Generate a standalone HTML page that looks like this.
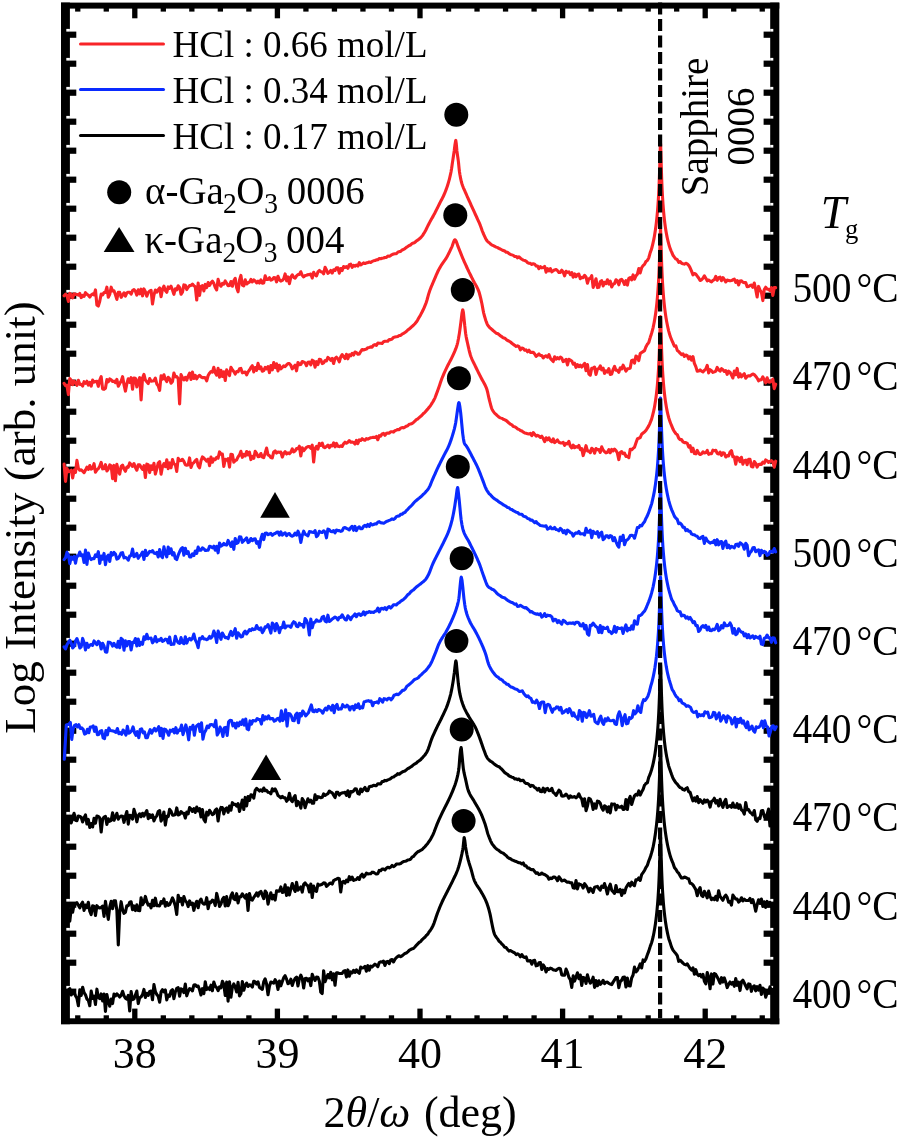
<!DOCTYPE html>
<html><head><meta charset="utf-8"><title>XRD</title>
<style>html,body{margin:0;padding:0;background:#fff;overflow:hidden;width:900px;height:1140px;} svg{display:block;}</style>
</head><body>
<svg width="900" height="1140" viewBox="0 0 900 1140"><rect width="900" height="1140" fill="#fff"/><g fill="#000"><rect x="61.0" y="2.6" width="718.3" height="6.0"/><rect x="61.0" y="1018.3" width="718.3" height="5.900000000000091"/><rect x="61.0" y="2.6" width="8.900000000000006" height="1021.6"/><rect x="770.2" y="2.6" width="9.099999999999909" height="1021.6"/><rect x="75.11" y="1015.30" width="5.3" height="4.0"/><rect x="75.11" y="7.60" width="5.3" height="4.0"/><rect x="103.63" y="1015.30" width="5.3" height="4.0"/><rect x="103.63" y="7.60" width="5.3" height="4.0"/><rect x="132.15" y="1008.60" width="5.3" height="10.7"/><rect x="132.15" y="7.60" width="5.3" height="10.7"/><rect x="160.67" y="1015.30" width="5.3" height="4.0"/><rect x="160.67" y="7.60" width="5.3" height="4.0"/><rect x="189.19" y="1015.30" width="5.3" height="4.0"/><rect x="189.19" y="7.60" width="5.3" height="4.0"/><rect x="217.71" y="1015.30" width="5.3" height="4.0"/><rect x="217.71" y="7.60" width="5.3" height="4.0"/><rect x="246.23" y="1015.30" width="5.3" height="4.0"/><rect x="246.23" y="7.60" width="5.3" height="4.0"/><rect x="274.75" y="1008.60" width="5.3" height="10.7"/><rect x="274.75" y="7.60" width="5.3" height="10.7"/><rect x="303.27" y="1015.30" width="5.3" height="4.0"/><rect x="303.27" y="7.60" width="5.3" height="4.0"/><rect x="331.79" y="1015.30" width="5.3" height="4.0"/><rect x="331.79" y="7.60" width="5.3" height="4.0"/><rect x="360.31" y="1015.30" width="5.3" height="4.0"/><rect x="360.31" y="7.60" width="5.3" height="4.0"/><rect x="388.83" y="1015.30" width="5.3" height="4.0"/><rect x="388.83" y="7.60" width="5.3" height="4.0"/><rect x="417.35" y="1008.60" width="5.3" height="10.7"/><rect x="417.35" y="7.60" width="5.3" height="10.7"/><rect x="445.87" y="1015.30" width="5.3" height="4.0"/><rect x="445.87" y="7.60" width="5.3" height="4.0"/><rect x="474.39" y="1015.30" width="5.3" height="4.0"/><rect x="474.39" y="7.60" width="5.3" height="4.0"/><rect x="502.91" y="1015.30" width="5.3" height="4.0"/><rect x="502.91" y="7.60" width="5.3" height="4.0"/><rect x="531.43" y="1015.30" width="5.3" height="4.0"/><rect x="531.43" y="7.60" width="5.3" height="4.0"/><rect x="559.95" y="1008.60" width="5.3" height="10.7"/><rect x="559.95" y="7.60" width="5.3" height="10.7"/><rect x="588.47" y="1015.30" width="5.3" height="4.0"/><rect x="588.47" y="7.60" width="5.3" height="4.0"/><rect x="616.99" y="1015.30" width="5.3" height="4.0"/><rect x="616.99" y="7.60" width="5.3" height="4.0"/><rect x="645.51" y="1015.30" width="5.3" height="4.0"/><rect x="645.51" y="7.60" width="5.3" height="4.0"/><rect x="674.03" y="1015.30" width="5.3" height="4.0"/><rect x="674.03" y="7.60" width="5.3" height="4.0"/><rect x="702.55" y="1008.60" width="5.3" height="10.7"/><rect x="702.55" y="7.60" width="5.3" height="10.7"/><rect x="731.07" y="1015.30" width="5.3" height="4.0"/><rect x="731.07" y="7.60" width="5.3" height="4.0"/><rect x="759.59" y="1015.30" width="5.3" height="4.0"/><rect x="759.59" y="7.60" width="5.3" height="4.0"/><rect x="66" y="31.60" width="10.3" height="6.2"/><rect x="763.6" y="31.60" width="10" height="6.2"/><rect x="66" y="60.60" width="10.3" height="6.2"/><rect x="763.6" y="60.60" width="10" height="6.2"/><rect x="66" y="89.60" width="10.3" height="6.2"/><rect x="763.6" y="89.60" width="10" height="6.2"/><rect x="66" y="118.60" width="10.3" height="6.2"/><rect x="763.6" y="118.60" width="10" height="6.2"/><rect x="66" y="147.60" width="10.3" height="6.2"/><rect x="763.6" y="147.60" width="10" height="6.2"/><rect x="66" y="176.60" width="10.3" height="6.2"/><rect x="763.6" y="176.60" width="10" height="6.2"/><rect x="66" y="205.60" width="10.3" height="6.2"/><rect x="763.6" y="205.60" width="10" height="6.2"/><rect x="66" y="234.60" width="10.3" height="6.2"/><rect x="763.6" y="234.60" width="10" height="6.2"/><rect x="66" y="263.60" width="10.3" height="6.2"/><rect x="763.6" y="263.60" width="10" height="6.2"/><rect x="66" y="292.60" width="10.3" height="6.2"/><rect x="763.6" y="292.60" width="10" height="6.2"/><rect x="66" y="321.60" width="10.3" height="6.2"/><rect x="763.6" y="321.60" width="10" height="6.2"/><rect x="66" y="350.60" width="10.3" height="6.2"/><rect x="763.6" y="350.60" width="10" height="6.2"/><rect x="66" y="379.60" width="10.3" height="6.2"/><rect x="763.6" y="379.60" width="10" height="6.2"/><rect x="66" y="408.60" width="10.3" height="6.2"/><rect x="763.6" y="408.60" width="10" height="6.2"/><rect x="66" y="437.60" width="10.3" height="6.2"/><rect x="763.6" y="437.60" width="10" height="6.2"/><rect x="66" y="466.60" width="10.3" height="6.2"/><rect x="763.6" y="466.60" width="10" height="6.2"/><rect x="66" y="495.60" width="10.3" height="6.2"/><rect x="763.6" y="495.60" width="10" height="6.2"/><rect x="66" y="524.60" width="10.3" height="6.2"/><rect x="763.6" y="524.60" width="10" height="6.2"/><rect x="66" y="553.60" width="10.3" height="6.2"/><rect x="763.6" y="553.60" width="10" height="6.2"/><rect x="66" y="582.60" width="10.3" height="6.2"/><rect x="763.6" y="582.60" width="10" height="6.2"/><rect x="66" y="611.60" width="10.3" height="6.2"/><rect x="763.6" y="611.60" width="10" height="6.2"/><rect x="66" y="640.60" width="10.3" height="6.2"/><rect x="763.6" y="640.60" width="10" height="6.2"/><rect x="66" y="669.60" width="10.3" height="6.2"/><rect x="763.6" y="669.60" width="10" height="6.2"/><rect x="66" y="698.60" width="10.3" height="6.2"/><rect x="763.6" y="698.60" width="10" height="6.2"/><rect x="66" y="727.60" width="10.3" height="6.2"/><rect x="763.6" y="727.60" width="10" height="6.2"/><rect x="66" y="756.60" width="10.3" height="6.2"/><rect x="763.6" y="756.60" width="10" height="6.2"/><rect x="66" y="785.60" width="10.3" height="6.2"/><rect x="763.6" y="785.60" width="10" height="6.2"/><rect x="66" y="814.60" width="10.3" height="6.2"/><rect x="763.6" y="814.60" width="10" height="6.2"/><rect x="66" y="843.60" width="10.3" height="6.2"/><rect x="763.6" y="843.60" width="10" height="6.2"/><rect x="66" y="872.60" width="10.3" height="6.2"/><rect x="763.6" y="872.60" width="10" height="6.2"/><rect x="66" y="901.60" width="10.3" height="6.2"/><rect x="763.6" y="901.60" width="10" height="6.2"/><rect x="66" y="930.60" width="10.3" height="6.2"/><rect x="763.6" y="930.60" width="10" height="6.2"/><rect x="66" y="959.60" width="10.3" height="6.2"/><rect x="763.6" y="959.60" width="10" height="6.2"/><rect x="66" y="988.60" width="10.3" height="6.2"/><rect x="763.6" y="988.60" width="10" height="6.2"/></g><g fill="#fff"><rect x="66.3" y="28.90" width="3.6" height="2.7"/><rect x="770.20" y="28.90" width="3.1" height="2.7"/><rect x="66.3" y="57.90" width="3.6" height="2.7"/><rect x="770.20" y="57.90" width="3.1" height="2.7"/><rect x="66.3" y="86.90" width="3.6" height="2.7"/><rect x="770.20" y="86.90" width="3.1" height="2.7"/><rect x="66.3" y="115.90" width="3.6" height="2.7"/><rect x="770.20" y="115.90" width="3.1" height="2.7"/><rect x="66.3" y="144.90" width="3.6" height="2.7"/><rect x="770.20" y="144.90" width="3.1" height="2.7"/><rect x="66.3" y="173.90" width="3.6" height="2.7"/><rect x="770.20" y="173.90" width="3.1" height="2.7"/><rect x="66.3" y="202.90" width="3.6" height="2.7"/><rect x="770.20" y="202.90" width="3.1" height="2.7"/><rect x="66.3" y="231.90" width="3.6" height="2.7"/><rect x="770.20" y="231.90" width="3.1" height="2.7"/><rect x="66.3" y="260.90" width="3.6" height="2.7"/><rect x="770.20" y="260.90" width="3.1" height="2.7"/><rect x="66.3" y="289.90" width="3.6" height="2.7"/><rect x="770.20" y="289.90" width="3.1" height="2.7"/><rect x="66.3" y="318.90" width="3.6" height="2.7"/><rect x="770.20" y="318.90" width="3.1" height="2.7"/><rect x="66.3" y="347.90" width="3.6" height="2.7"/><rect x="770.20" y="347.90" width="3.1" height="2.7"/><rect x="66.3" y="376.90" width="3.6" height="2.7"/><rect x="770.20" y="376.90" width="3.1" height="2.7"/><rect x="66.3" y="405.90" width="3.6" height="2.7"/><rect x="770.20" y="405.90" width="3.1" height="2.7"/><rect x="66.3" y="434.90" width="3.6" height="2.7"/><rect x="770.20" y="434.90" width="3.1" height="2.7"/><rect x="66.3" y="463.90" width="3.6" height="2.7"/><rect x="770.20" y="463.90" width="3.1" height="2.7"/><rect x="66.3" y="492.90" width="3.6" height="2.7"/><rect x="770.20" y="492.90" width="3.1" height="2.7"/><rect x="66.3" y="521.90" width="3.6" height="2.7"/><rect x="770.20" y="521.90" width="3.1" height="2.7"/><rect x="66.3" y="550.90" width="3.6" height="2.7"/><rect x="770.20" y="550.90" width="3.1" height="2.7"/><rect x="66.3" y="579.90" width="3.6" height="2.7"/><rect x="770.20" y="579.90" width="3.1" height="2.7"/><rect x="66.3" y="608.90" width="3.6" height="2.7"/><rect x="770.20" y="608.90" width="3.1" height="2.7"/><rect x="66.3" y="637.90" width="3.6" height="2.7"/><rect x="770.20" y="637.90" width="3.1" height="2.7"/><rect x="66.3" y="666.90" width="3.6" height="2.7"/><rect x="770.20" y="666.90" width="3.1" height="2.7"/><rect x="66.3" y="695.90" width="3.6" height="2.7"/><rect x="770.20" y="695.90" width="3.1" height="2.7"/><rect x="66.3" y="724.90" width="3.6" height="2.7"/><rect x="770.20" y="724.90" width="3.1" height="2.7"/><rect x="66.3" y="753.90" width="3.6" height="2.7"/><rect x="770.20" y="753.90" width="3.1" height="2.7"/><rect x="66.3" y="782.90" width="3.6" height="2.7"/><rect x="770.20" y="782.90" width="3.1" height="2.7"/><rect x="66.3" y="811.90" width="3.6" height="2.7"/><rect x="770.20" y="811.90" width="3.1" height="2.7"/><rect x="66.3" y="840.90" width="3.6" height="2.7"/><rect x="770.20" y="840.90" width="3.1" height="2.7"/><rect x="66.3" y="869.90" width="3.6" height="2.7"/><rect x="770.20" y="869.90" width="3.1" height="2.7"/><rect x="66.3" y="898.90" width="3.6" height="2.7"/><rect x="770.20" y="898.90" width="3.1" height="2.7"/><rect x="66.3" y="927.90" width="3.6" height="2.7"/><rect x="770.20" y="927.90" width="3.1" height="2.7"/><rect x="66.3" y="956.90" width="3.6" height="2.7"/><rect x="770.20" y="956.90" width="3.1" height="2.7"/><rect x="66.3" y="985.90" width="3.6" height="2.7"/><rect x="770.20" y="985.90" width="3.1" height="2.7"/></g><path d="M64.10,295.80 L65.53,294.18 L66.95,295.50 L68.38,301.40 L69.80,293.42 L71.23,294.63 L72.66,297.81 L74.08,293.89 L75.51,294.40 L76.93,294.47 L78.36,295.19 L79.79,293.38 L81.21,297.64 L82.64,295.40 L84.06,296.40 L85.49,292.66 L86.92,294.31 L88.34,295.33 L89.77,297.04 L91.19,294.97 L92.62,293.95 L94.05,294.82 L95.47,289.87 L96.90,305.00 L98.32,306.09 L99.75,301.27 L101.18,294.03 L102.60,294.84 L104.03,292.60 L105.45,292.52 L106.88,287.15 L108.31,297.29 L109.73,294.39 L111.16,287.18 L112.58,290.92 L114.01,290.83 L115.44,294.70 L116.86,299.41 L118.29,292.25 L119.71,292.40 L121.14,297.38 L122.57,295.13 L123.99,292.88 L125.42,296.07 L126.84,292.88 L128.27,292.18 L129.70,292.33 L131.12,294.18 L132.55,290.45 L133.97,289.51 L135.40,291.18 L136.83,295.13 L138.25,289.78 L139.68,293.78 L141.10,289.20 L142.53,295.84 L143.96,288.91 L145.38,291.71 L146.81,296.28 L148.23,292.50 L149.66,291.11 L151.09,290.26 L152.51,304.00 L153.94,295.01 L155.36,290.07 L156.79,292.21 L158.22,289.65 L159.64,287.88 L161.07,296.65 L162.49,289.11 L163.92,286.08 L165.35,290.64 L166.77,292.38 L168.20,286.94 L169.62,288.30 L171.05,286.20 L172.48,289.99 L173.90,294.37 L175.33,288.86 L176.75,289.88 L178.18,285.77 L179.61,287.41 L181.03,294.28 L182.46,292.20 L183.88,284.90 L185.31,285.35 L186.74,289.57 L188.16,287.19 L189.59,285.63 L191.01,285.42 L192.44,284.08 L193.87,285.79 L195.29,286.78 L196.72,300.00 L198.14,283.02 L199.57,295.37 L201.00,286.36 L202.42,285.65 L203.85,290.93 L205.27,284.42 L206.70,287.56 L208.13,282.59 L209.55,285.45 L210.98,282.87 L212.40,281.21 L213.83,283.43 L215.26,287.50 L216.68,289.91 L218.11,279.31 L219.53,284.40 L220.96,286.22 L222.39,283.31 L223.81,284.23 L225.24,280.98 L226.66,283.23 L228.09,285.69 L229.52,285.41 L230.94,281.50 L232.37,286.27 L233.79,280.68 L235.22,278.30 L236.65,287.70 L238.07,291.81 L239.50,280.27 L240.92,275.46 L242.35,285.05 L243.78,285.81 L245.20,279.80 L246.63,284.02 L248.05,282.76 L249.48,282.11 L250.91,279.41 L252.33,281.99 L253.76,279.83 L255.18,281.00 L256.61,282.95 L258.04,281.14 L259.46,282.99 L260.89,279.89 L262.31,283.25 L263.74,282.99 L265.17,275.81 L266.59,279.52 L268.02,279.39 L269.44,277.75 L270.87,280.17 L272.30,279.48 L273.72,277.60 L275.15,277.84 L276.57,281.86 L278.00,276.23 L279.43,279.83 L280.85,281.08 L282.28,280.45 L283.70,278.84 L285.13,273.87 L286.56,280.81 L287.98,276.97 L289.41,283.61 L290.83,277.08 L292.26,274.81 L293.69,277.36 L295.11,278.21 L296.54,275.88 L297.96,274.65 L299.39,274.56 L300.82,271.75 L302.24,275.22 L303.67,276.92 L305.09,275.58 L306.52,275.24 L307.95,274.62 L309.37,274.69 L310.80,274.02 L312.22,278.08 L313.65,272.26 L315.08,274.87 L316.50,275.93 L317.93,271.92 L319.35,270.48 L320.78,271.69 L322.21,272.03 L323.63,273.84 L325.06,267.23 L326.48,270.01 L327.91,273.27 L329.34,272.27 L330.76,270.48 L332.19,273.01 L333.61,269.77 L335.04,270.46 L336.47,267.69 L337.89,267.79 L339.32,273.17 L340.74,268.49 L342.17,270.57 L343.60,266.53 L345.02,267.42 L346.45,266.65 L347.87,268.36 L349.30,264.64 L350.73,264.18 L352.15,267.30 L353.58,265.33 L355.00,266.14 L356.43,265.10 L357.86,266.06 L359.28,262.66 L360.71,264.99 L362.13,263.98 L363.56,262.91 L364.99,263.55 L366.41,262.82 L367.84,262.71 L369.26,261.97 L370.69,262.39 L372.12,261.41 L373.54,260.84 L374.97,260.52 L376.39,259.84 L377.82,259.64 L379.25,258.58 L380.67,258.79 L382.10,258.23 L383.52,258.07 L384.95,257.52 L386.38,257.41 L387.80,256.03 L389.23,256.31 L390.65,255.59 L392.08,254.57 L393.51,254.00 L394.93,253.73 L396.36,253.72 L397.78,252.19 L399.21,251.59 L400.64,251.43 L402.06,249.96 L403.49,249.50 L404.91,248.66 L406.34,247.38 L407.77,246.48 L409.19,245.47 L410.62,244.94 L412.04,243.48 L413.47,243.08 L414.90,242.32 L416.32,241.01 L417.75,240.16 L419.17,238.95 L420.00,238.28 L420.60,237.75 L420.70,237.65 L421.10,237.23 L421.40,236.90 L422.03,236.12 L422.10,236.02 L422.80,235.04 L423.45,234.04 L423.50,233.97 L424.20,232.89 L424.88,231.79 L424.90,231.75 L425.30,231.03 L425.60,230.47 L426.30,229.04 L426.30,229.03 L427.00,227.60 L427.70,226.14 L427.73,226.08 L428.40,224.74 L428.40,224.74 L429.10,223.42 L429.16,223.32 L429.80,222.12 L430.50,220.84 L430.58,220.69 L431.20,219.59 L431.90,218.35 L432.01,218.16 L432.60,217.12 L433.30,215.88 L433.43,215.63 L434.00,214.59 L434.20,214.22 L434.70,213.27 L434.86,212.97 L435.40,211.90 L436.10,210.50 L436.29,210.13 L436.80,209.13 L437.50,207.75 L437.71,207.33 L438.20,206.35 L438.90,204.93 L439.14,204.45 L439.50,203.72 L439.60,203.52 L440.30,202.14 L440.56,201.63 L441.00,200.81 L441.70,199.49 L441.99,198.94 L442.40,198.14 L443.10,196.73 L443.42,196.07 L443.80,195.25 L444.50,193.68 L444.70,193.21 L444.84,192.86 L445.20,191.98 L445.90,190.16 L446.27,189.15 L446.60,188.22 L447.30,186.16 L447.69,184.93 L448.00,183.94 L448.40,182.61 L448.70,181.57 L449.12,180.07 L449.40,179.03 L450.10,176.20 L450.55,174.21 L450.80,173.00 L451.00,172.00 L451.50,169.10 L451.97,165.92 L452.20,164.33 L452.60,161.60 L452.90,159.62 L453.40,156.31 L453.60,154.97 L454.20,151.00 L454.30,150.30 L454.82,145.93 L455.00,144.43 L455.70,140.58 L455.80,140.50 L456.25,143.45 L456.40,145.25 L456.90,151.00 L457.10,152.56 L457.68,156.47 L457.80,157.29 L458.40,161.60 L458.50,162.46 L459.10,168.55 L459.20,169.51 L459.50,172.01 L459.90,174.58 L460.53,178.07 L460.60,178.43 L461.30,181.50 L461.60,182.60 L461.95,183.78 L462.00,183.93 L462.70,185.98 L463.38,187.72 L463.40,187.77 L464.10,189.40 L464.80,190.95 L464.81,190.96 L465.50,192.51 L465.80,193.21 L466.20,194.15 L466.23,194.22 L466.90,195.75 L467.60,197.32 L467.66,197.45 L468.30,198.88 L469.00,200.43 L469.08,200.61 L469.70,201.95 L470.40,203.47 L470.50,203.69 L470.51,203.71 L471.10,205.02 L471.80,206.55 L471.94,206.85 L472.50,208.09 L473.20,209.62 L473.36,209.97 L473.90,211.16 L474.60,212.70 L474.79,213.12 L475.30,214.23 L475.30,214.23 L476.00,215.75 L476.21,216.21 L476.70,217.27 L477.40,218.80 L477.64,219.33 L478.10,220.32 L478.80,221.84 L479.07,222.44 L479.50,223.46 L480.00,224.68 L480.20,225.18 L480.49,225.95 L480.90,227.07 L481.60,229.04 L481.92,229.93 L482.30,230.98 L483.00,232.74 L483.20,233.19 L483.34,233.51 L483.70,234.29 L484.40,235.83 L484.77,236.63 L485.10,237.35 L485.80,238.81 L486.20,239.57 L486.50,240.04 L487.20,240.97 L487.62,241.42 L487.80,241.57 L487.90,241.66 L488.60,242.20 L489.05,242.52 L489.30,242.78 L490.00,243.49 L490.47,243.95 L490.70,244.11 L491.40,244.59 L491.90,244.91 L492.10,245.02 L492.80,245.36 L493.33,245.61 L493.50,245.71 L494.20,246.09 L494.75,246.38 L494.90,246.46 L495.60,246.82 L496.18,247.11 L496.30,247.15 L497.00,247.39 L497.60,247.60 L497.70,247.65 L498.40,248.06 L498.90,248.37 L499.03,248.45 L499.10,248.48 L499.80,248.78 L500.46,249.06 L500.50,249.09 L501.20,249.50 L501.88,249.90 L501.90,249.91 L502.60,250.23 L503.30,250.55 L503.31,250.55 L504.00,250.81 L504.70,251.06 L504.73,251.07 L506.16,252.19 L507.59,252.27 L509.01,253.69 L510.44,254.43 L511.86,254.87 L513.29,255.35 L514.72,256.53 L516.14,256.44 L517.57,257.87 L518.99,256.84 L520.42,258.23 L521.85,259.27 L523.27,260.12 L524.70,260.52 L526.12,261.16 L527.55,262.57 L528.98,263.27 L530.40,263.40 L531.83,264.46 L533.25,263.74 L534.68,264.15 L536.11,265.92 L537.53,265.95 L538.96,268.69 L540.38,266.62 L541.81,267.82 L543.24,267.49 L544.66,266.35 L546.09,272.26 L547.51,268.62 L548.94,270.94 L550.37,268.63 L551.79,271.87 L553.22,270.77 L554.64,269.91 L556.07,269.52 L557.50,270.65 L558.92,272.46 L560.35,272.37 L561.77,270.20 L563.20,272.10 L564.63,275.89 L566.05,271.23 L567.48,272.35 L568.90,271.84 L570.33,274.64 L571.76,272.63 L573.18,277.21 L574.61,273.89 L576.03,276.70 L577.46,274.43 L578.89,274.09 L580.31,278.72 L581.74,277.39 L583.16,277.66 L584.59,275.37 L586.02,277.00 L587.44,283.15 L588.87,278.71 L590.29,278.48 L591.72,275.65 L593.15,287.43 L594.57,283.74 L596.00,278.76 L597.42,287.58 L598.85,287.29 L600.28,281.80 L601.70,280.59 L603.13,285.97 L604.55,282.26 L605.98,283.65 L607.41,279.80 L608.83,284.09 L610.26,281.09 L611.68,286.93 L613.11,284.20 L614.54,283.65 L615.96,279.79 L617.39,280.99 L618.81,284.79 L620.24,280.00 L621.67,279.39 L623.09,281.46 L624.52,284.49 L625.94,280.70 L627.37,285.05 L628.80,278.43 L630.22,277.63 L631.65,279.84 L633.07,274.90 L634.50,279.21 L635.93,275.87 L637.35,274.30 L638.78,268.56 L640.20,272.95 L641.63,267.75 L643.06,265.64 L644.48,264.35 L645.00,263.35 L645.20,262.95 L645.40,262.55 L645.60,262.14 L645.80,261.72 L645.91,261.49 L646.00,261.43 L646.20,261.31 L646.40,261.17 L646.60,261.03 L646.80,260.88 L647.00,260.72 L647.20,260.56 L647.33,260.44 L647.40,260.33 L647.60,259.99 L647.80,259.64 L648.00,259.28 L648.20,258.92 L648.40,258.54 L648.60,258.15 L648.76,257.82 L648.80,257.69 L649.00,257.00 L649.20,256.30 L649.40,255.59 L649.60,254.86 L649.80,254.12 L650.00,253.37 L650.19,252.65 L650.20,252.62 L650.40,252.12 L650.60,251.60 L650.80,251.07 L651.00,250.52 L651.20,249.95 L651.40,249.37 L651.60,248.76 L651.61,248.72 L651.80,248.02 L652.00,247.26 L652.20,246.47 L652.40,245.65 L652.60,244.82 L652.80,243.95 L653.00,243.06 L653.04,242.89 L653.20,242.18 L653.40,241.27 L653.60,240.33 L653.80,239.36 L654.00,238.36 L654.20,237.31 L654.40,236.23 L654.46,235.87 L654.60,235.08 L654.80,233.87 L655.00,232.61 L655.20,231.30 L655.40,229.94 L655.60,228.52 L655.80,227.03 L655.89,226.34 L656.00,225.49 L656.20,223.89 L656.40,222.21 L656.60,220.44 L656.80,218.57 L657.00,216.60 L657.20,214.51 L657.32,213.23 L657.40,212.28 L657.60,209.90 L657.80,207.36 L658.00,204.63 L658.20,201.68 L658.40,198.48 L658.60,194.98 L658.74,192.30 L658.80,191.14 L659.00,186.89 L659.20,182.15 L659.40,176.83 L659.60,170.82 L659.80,164.07 L660.00,156.68 L660.17,150.47 L660.20,149.37 L660.40,144.26 L660.50,143.50 L660.60,144.23 L660.80,149.30 L661.00,156.56 L661.20,163.90 L661.40,170.61 L661.59,176.40 L661.60,176.57 L661.80,181.84 L662.00,186.53 L662.20,190.74 L662.40,194.53 L662.60,197.98 L662.80,201.14 L663.00,204.05 L663.02,204.33 L663.20,206.74 L663.40,209.24 L663.60,211.57 L663.80,213.76 L664.00,215.81 L664.20,217.74 L664.40,219.56 L664.45,219.96 L664.60,221.29 L664.80,222.93 L665.00,224.48 L665.20,225.97 L665.40,227.38 L665.60,228.73 L665.80,230.02 L665.87,230.47 L666.00,231.24 L666.20,232.40 L666.40,233.52 L666.60,234.59 L666.80,235.62 L667.00,236.61 L667.20,237.56 L667.30,238.01 L667.40,238.48 L667.60,239.38 L667.80,240.24 L668.00,241.07 L668.20,241.88 L668.40,242.65 L668.60,243.40 L668.72,243.85 L668.80,244.13 L669.00,244.85 L669.20,245.54 L669.40,246.21 L669.60,246.86 L669.80,247.49 L670.00,248.10 L670.15,248.55 L670.20,248.68 L670.40,249.17 L670.60,249.64 L670.80,250.10 L671.00,250.55 L671.20,250.97 L671.40,251.39 L671.58,251.74 L671.60,251.80 L671.80,252.33 L672.00,252.85 L672.20,253.35 L672.40,253.84 L672.60,254.32 L672.80,254.79 L673.00,255.24 L673.00,255.25 L673.20,255.54 L673.40,255.83 L673.60,256.11 L673.80,256.38 L674.00,256.64 L674.20,256.90 L674.40,257.14 L674.43,257.17 L674.60,257.41 L674.80,257.67 L675.00,257.93 L675.20,258.18 L675.40,258.43 L675.60,258.66 L675.80,258.89 L675.85,258.95 L677.28,259.72 L678.71,262.36 L680.13,261.69 L681.56,263.19 L682.98,263.67 L684.41,264.11 L685.84,263.27 L687.26,263.86 L688.69,265.30 L690.11,267.87 L691.54,271.11 L692.97,274.82 L694.39,273.51 L695.82,274.17 L697.24,276.10 L698.67,278.01 L700.10,280.47 L701.52,279.81 L702.95,278.21 L704.37,275.85 L705.80,278.20 L707.23,280.78 L708.65,279.96 L710.08,281.11 L711.50,281.83 L712.93,280.44 L714.36,279.69 L715.78,276.47 L717.21,280.33 L718.63,277.70 L720.06,277.04 L721.49,280.73 L722.91,277.56 L724.34,279.40 L725.76,281.92 L727.19,280.12 L728.62,280.46 L730.04,280.84 L731.47,280.58 L732.89,279.69 L734.32,279.06 L735.75,282.35 L737.17,280.56 L738.60,284.99 L740.02,280.94 L741.45,280.69 L742.88,282.35 L744.30,282.63 L745.73,282.60 L747.15,286.68 L748.58,286.45 L750.01,285.45 L751.43,285.13 L752.86,287.32 L754.28,283.05 L755.71,289.36 L757.14,297.00 L758.56,286.42 L759.99,290.05 L761.41,292.16 L762.84,300.56 L764.27,289.56 L765.69,287.24 L767.12,289.20 L768.54,289.28 L769.97,290.51 L771.40,287.69 L772.82,295.50 L774.25,287.64 L775.67,287.65" fill="none" stroke="#f82428" stroke-width="3.1" stroke-linejoin="round" stroke-linecap="round"/><path d="M64.10,383.35 L65.53,385.75 L66.95,385.28 L68.38,394.59 L69.80,378.47 L71.23,380.15 L72.66,384.71 L74.08,381.09 L75.51,382.54 L76.93,385.36 L78.36,380.31 L79.79,384.35 L81.21,384.36 L82.64,386.03 L84.06,381.63 L85.49,383.38 L86.92,381.24 L88.34,385.09 L89.77,382.45 L91.19,386.09 L92.62,380.13 L94.05,382.09 L95.47,381.58 L96.90,381.28 L98.32,386.31 L99.75,380.05 L101.18,376.58 L102.60,388.94 L104.03,389.33 L105.45,388.23 L106.88,379.65 L108.31,381.82 L109.73,378.90 L111.16,379.89 L112.58,381.44 L114.01,381.17 L115.44,382.65 L116.86,379.32 L118.29,386.24 L119.71,383.44 L121.14,381.13 L122.57,376.64 L123.99,384.62 L125.42,391.10 L126.84,383.77 L128.27,378.73 L129.70,382.50 L131.12,377.65 L132.55,389.27 L133.97,378.09 L135.40,378.30 L136.83,386.94 L138.25,380.87 L139.68,377.62 L141.10,400.00 L142.53,378.08 L143.96,374.44 L145.38,380.09 L146.81,381.86 L148.23,383.57 L149.66,378.61 L151.09,381.22 L152.51,381.03 L153.94,380.64 L155.36,378.08 L156.79,383.98 L158.22,385.87 L159.64,390.46 L161.07,375.91 L162.49,379.16 L163.92,374.76 L165.35,379.12 L166.77,381.60 L168.20,377.23 L169.62,378.87 L171.05,383.22 L172.48,381.53 L173.90,372.99 L175.33,376.83 L176.75,376.49 L178.18,378.63 L179.61,404.00 L181.03,374.63 L182.46,377.61 L183.88,379.84 L185.31,377.42 L186.74,380.13 L188.16,376.06 L189.59,373.10 L191.01,379.41 L192.44,372.00 L193.87,378.47 L195.29,375.45 L196.72,378.82 L198.14,376.41 L199.57,375.35 L201.00,376.86 L202.42,377.70 L203.85,377.45 L205.27,377.85 L206.70,380.84 L208.13,375.49 L209.55,373.17 L210.98,371.51 L212.40,372.12 L213.83,367.27 L215.26,372.81 L216.68,375.23 L218.11,368.21 L219.53,377.14 L220.96,370.27 L222.39,376.44 L223.81,371.75 L225.24,380.52 L226.66,369.83 L228.09,372.88 L229.52,375.61 L230.94,367.28 L232.37,369.54 L233.79,371.53 L235.22,374.05 L236.65,371.47 L238.07,371.69 L239.50,368.82 L240.92,368.45 L242.35,372.86 L243.78,372.26 L245.20,372.02 L246.63,374.86 L248.05,371.86 L249.48,370.04 L250.91,367.57 L252.33,365.75 L253.76,371.88 L255.18,367.47 L256.61,370.29 L258.04,363.35 L259.46,368.71 L260.89,366.96 L262.31,371.24 L263.74,370.63 L265.17,367.33 L266.59,368.91 L268.02,366.60 L269.44,372.61 L270.87,365.48 L272.30,369.90 L273.72,362.64 L275.15,367.67 L276.57,363.82 L278.00,370.90 L279.43,365.22 L280.85,368.85 L282.28,367.45 L283.70,365.84 L285.13,366.63 L286.56,364.90 L287.98,363.54 L289.41,363.62 L290.83,365.34 L292.26,368.90 L293.69,366.99 L295.11,365.12 L296.54,370.82 L297.96,362.45 L299.39,364.69 L300.82,364.53 L302.24,361.52 L303.67,361.98 L305.09,362.83 L306.52,365.73 L307.95,362.28 L309.37,362.03 L310.80,364.81 L312.22,360.21 L313.65,361.16 L315.08,367.12 L316.50,361.63 L317.93,364.70 L319.35,359.21 L320.78,359.67 L322.21,363.59 L323.63,362.83 L325.06,360.48 L326.48,360.95 L327.91,357.43 L329.34,358.61 L330.76,360.32 L332.19,358.46 L333.61,363.46 L335.04,358.44 L336.47,357.24 L337.89,358.75 L339.32,361.89 L340.74,356.92 L342.17,354.57 L343.60,356.82 L345.02,358.55 L346.45,354.32 L347.87,358.81 L349.30,354.78 L350.73,355.77 L352.15,353.35 L353.58,355.04 L355.00,351.98 L356.43,352.58 L357.86,354.28 L359.28,353.89 L360.71,351.53 L362.13,349.50 L363.56,349.95 L364.99,349.41 L366.41,349.05 L367.84,347.73 L369.26,347.41 L370.69,346.89 L372.12,347.11 L373.54,345.19 L374.97,344.54 L376.39,345.44 L377.82,343.00 L379.25,343.24 L380.67,343.27 L382.10,343.39 L383.52,341.71 L384.95,341.25 L386.38,341.21 L387.80,341.15 L389.23,339.53 L390.65,339.61 L392.08,339.02 L393.51,337.40 L394.93,337.06 L396.36,336.80 L397.78,336.53 L399.21,335.54 L400.64,335.53 L402.06,334.10 L403.49,333.39 L404.91,332.50 L406.34,331.50 L407.77,330.02 L409.19,328.95 L410.62,327.76 L412.04,326.42 L413.47,325.27 L414.90,323.77 L416.32,322.05 L417.75,319.80 L419.17,317.34 L420.00,315.91 L420.60,314.84 L420.70,314.65 L421.10,313.89 L421.40,313.32 L422.03,312.09 L422.10,311.95 L422.80,310.58 L423.45,309.25 L423.50,309.15 L424.20,307.57 L424.88,305.95 L424.90,305.90 L425.60,304.15 L426.10,302.83 L426.30,302.26 L426.30,302.25 L427.00,300.02 L427.70,297.53 L427.73,297.42 L428.40,294.96 L429.10,292.57 L429.16,292.39 L429.40,291.66 L429.80,290.55 L430.50,288.69 L430.58,288.48 L431.20,286.95 L431.90,285.27 L432.01,285.02 L432.60,283.63 L433.30,282.01 L433.43,281.70 L433.90,280.61 L434.00,280.37 L434.70,278.71 L434.86,278.33 L435.40,277.06 L436.10,275.42 L436.29,274.99 L436.80,273.81 L437.50,272.25 L437.71,271.79 L438.20,270.78 L438.90,269.41 L438.90,269.41 L439.14,268.97 L439.60,268.13 L440.30,266.93 L440.56,266.49 L441.00,265.78 L441.70,264.68 L441.99,264.23 L442.20,263.91 L442.40,263.60 L443.10,262.59 L443.42,262.15 L443.80,261.63 L444.50,260.68 L444.84,260.21 L445.20,259.70 L445.90,258.63 L446.10,258.31 L446.27,258.03 L446.60,257.46 L447.30,256.20 L447.69,255.46 L448.00,254.87 L448.70,253.49 L449.12,252.63 L449.40,252.05 L450.10,250.59 L450.55,249.65 L450.80,249.11 L451.50,247.62 L451.70,247.20 L451.97,246.57 L452.20,245.98 L452.90,243.95 L453.40,242.49 L453.60,241.94 L454.30,240.41 L454.82,239.84 L455.00,239.80 L455.00,239.80 L455.70,240.38 L456.25,241.49 L456.40,241.86 L457.10,243.84 L457.68,245.54 L457.80,245.90 L458.30,247.20 L458.50,247.67 L459.10,249.13 L459.20,249.37 L459.90,251.11 L460.53,252.69 L460.60,252.87 L461.30,254.64 L461.95,256.27 L462.00,256.38 L462.70,258.07 L462.80,258.30 L463.38,259.66 L463.40,259.70 L464.10,261.30 L464.80,262.87 L464.81,262.88 L465.50,264.42 L466.20,265.95 L466.23,266.02 L466.90,267.48 L467.60,269.00 L467.66,269.12 L467.80,269.42 L468.30,270.47 L469.00,271.92 L469.08,272.10 L469.70,273.36 L470.40,274.78 L470.51,275.01 L471.10,276.20 L471.80,277.62 L471.94,277.89 L472.50,279.02 L473.20,280.42 L473.30,280.62 L473.36,280.74 L473.90,281.77 L474.60,283.04 L474.79,283.36 L475.30,284.24 L476.00,285.45 L476.21,285.83 L476.70,286.73 L477.40,288.12 L477.64,288.63 L478.10,289.65 L478.80,291.38 L478.90,291.65 L479.07,292.12 L479.50,293.54 L480.20,296.24 L480.49,297.47 L480.90,299.22 L481.60,302.32 L481.70,302.77 L481.92,303.78 L482.30,305.77 L483.00,309.63 L483.34,311.44 L483.70,313.09 L483.90,313.89 L484.40,315.72 L484.77,317.02 L485.10,318.17 L485.80,320.44 L486.20,321.61 L486.50,322.44 L487.20,324.11 L487.62,324.94 L487.80,325.22 L487.90,325.36 L488.60,326.31 L489.05,326.86 L489.30,327.13 L490.00,327.83 L490.47,328.25 L490.70,328.45 L491.40,329.04 L491.90,329.42 L492.10,329.61 L492.80,330.26 L493.33,330.74 L493.50,330.88 L494.20,331.44 L494.40,331.60 L494.75,331.88 L494.90,332.02 L495.60,332.68 L496.18,333.20 L496.30,333.24 L497.00,333.44 L497.60,333.61 L497.70,333.67 L498.40,334.12 L499.03,334.52 L499.10,334.59 L499.80,335.25 L500.46,335.88 L500.50,335.91 L501.00,336.19 L501.20,336.31 L501.88,336.70 L501.90,336.72 L502.60,337.34 L503.30,337.96 L503.31,337.96 L504.00,338.06 L504.70,338.15 L504.73,338.15 L506.16,339.43 L507.59,340.51 L509.01,341.17 L510.44,341.99 L511.86,343.20 L513.29,344.45 L514.72,345.31 L516.14,346.40 L517.57,345.83 L518.99,346.63 L520.42,349.89 L521.85,348.06 L523.27,348.50 L524.70,350.28 L526.12,349.91 L527.55,351.74 L528.98,350.19 L530.40,352.51 L531.83,352.35 L533.25,352.26 L534.68,354.05 L536.11,356.37 L537.53,355.21 L538.96,354.00 L540.38,355.53 L541.81,355.50 L543.24,357.85 L544.66,356.34 L546.09,355.81 L547.51,357.17 L548.94,354.67 L550.37,358.20 L551.79,360.02 L553.22,361.52 L554.64,356.82 L556.07,359.19 L557.50,357.60 L558.92,358.88 L560.35,357.14 L561.77,358.06 L563.20,361.63 L564.63,360.64 L566.05,359.38 L567.48,364.97 L568.90,359.34 L570.33,360.15 L571.76,360.97 L573.18,364.06 L574.61,363.21 L576.03,367.39 L577.46,364.54 L578.89,366.65 L580.31,365.15 L581.74,367.09 L583.16,365.27 L584.59,363.33 L586.02,370.76 L587.44,364.51 L588.87,374.11 L590.29,375.21 L591.72,368.20 L593.15,368.11 L594.57,367.12 L596.00,374.39 L597.42,369.08 L598.85,368.75 L600.28,365.86 L601.70,369.90 L603.13,368.25 L604.55,373.38 L605.98,370.91 L607.41,372.01 L608.83,368.68 L610.26,374.40 L611.68,374.00 L613.11,369.52 L614.54,366.37 L615.96,370.17 L617.39,370.36 L618.81,372.31 L620.24,367.81 L621.67,368.94 L623.09,365.21 L624.52,368.14 L625.94,371.17 L627.37,368.72 L628.80,368.71 L630.22,368.04 L631.65,360.40 L633.07,360.14 L634.50,363.17 L635.93,356.09 L637.35,357.11 L638.78,360.53 L640.20,353.59 L641.63,352.50 L643.06,351.58 L644.48,350.63 L645.00,349.31 L645.20,348.78 L645.40,348.25 L645.60,347.72 L645.80,347.17 L645.91,346.87 L646.00,346.72 L646.20,346.37 L646.40,346.01 L646.60,345.64 L646.80,345.27 L647.00,344.88 L647.20,344.49 L647.33,344.22 L647.40,344.15 L647.60,343.93 L647.80,343.70 L648.00,343.46 L648.20,343.21 L648.40,342.95 L648.60,342.67 L648.76,342.45 L648.80,342.32 L649.00,341.67 L649.20,341.01 L649.40,340.34 L649.60,339.65 L649.80,338.95 L650.00,338.24 L650.19,337.56 L650.20,337.52 L650.40,336.96 L650.60,336.37 L650.80,335.78 L651.00,335.16 L651.20,334.53 L651.40,333.87 L651.60,333.20 L651.61,333.16 L651.80,332.53 L652.00,331.84 L652.20,331.12 L652.40,330.38 L652.60,329.62 L652.80,328.83 L653.00,328.01 L653.04,327.85 L653.20,327.13 L653.40,326.22 L653.60,325.27 L653.80,324.29 L654.00,323.27 L654.20,322.22 L654.40,321.12 L654.46,320.76 L654.60,320.00 L654.80,318.83 L655.00,317.61 L655.20,316.35 L655.40,315.02 L655.60,313.64 L655.80,312.20 L655.89,311.53 L656.00,310.68 L656.20,309.09 L656.40,307.42 L656.60,305.66 L656.80,303.80 L657.00,301.84 L657.20,299.75 L657.32,298.48 L657.40,297.54 L657.60,295.17 L657.80,292.63 L658.00,289.91 L658.20,286.97 L658.40,283.77 L658.60,280.29 L658.74,277.61 L658.80,276.46 L659.00,272.23 L659.20,267.51 L659.40,262.21 L659.60,256.22 L659.80,249.49 L660.00,242.12 L660.17,235.93 L660.20,234.83 L660.40,229.74 L660.50,229.00 L660.60,229.75 L660.80,234.84 L661.00,242.12 L661.20,249.50 L661.40,256.23 L661.59,262.05 L661.60,262.21 L661.80,267.51 L662.00,272.23 L662.20,276.46 L662.40,280.28 L662.60,283.76 L662.80,286.94 L663.00,289.88 L663.02,290.16 L663.20,292.60 L663.40,295.13 L663.60,297.50 L663.80,299.71 L664.00,301.80 L664.20,303.76 L664.40,305.62 L664.45,306.03 L664.60,307.39 L664.80,309.07 L665.00,310.67 L665.20,312.19 L665.40,313.65 L665.60,315.04 L665.80,316.38 L665.87,316.84 L666.00,317.65 L666.20,318.87 L666.40,320.04 L666.60,321.16 L666.80,322.24 L667.00,323.29 L667.20,324.29 L667.30,324.77 L667.40,325.28 L667.60,326.24 L667.80,327.17 L668.00,328.07 L668.20,328.95 L668.40,329.79 L668.60,330.61 L668.72,331.11 L668.80,331.39 L669.00,332.13 L669.20,332.85 L669.40,333.54 L669.60,334.21 L669.80,334.86 L670.00,335.50 L670.15,335.96 L670.20,336.10 L670.40,336.67 L670.60,337.23 L670.80,337.76 L671.00,338.28 L671.20,338.79 L671.40,339.28 L671.58,339.70 L671.60,339.75 L671.80,340.23 L672.00,340.69 L672.20,341.14 L672.40,341.57 L672.60,342.00 L672.80,342.41 L673.00,342.81 L673.00,342.82 L673.20,343.32 L673.40,343.82 L673.60,344.31 L673.80,344.78 L674.00,345.25 L674.20,345.71 L674.40,346.16 L674.43,346.23 L674.60,346.21 L674.80,346.18 L675.00,346.14 L675.20,346.10 L675.40,346.04 L675.60,345.98 L675.80,345.92 L675.85,345.90 L677.28,350.40 L678.71,351.43 L680.13,353.17 L681.56,354.57 L682.98,353.79 L684.41,356.45 L685.84,354.98 L687.26,355.67 L688.69,358.96 L690.11,356.71 L691.54,360.03 L692.97,356.65 L694.39,363.31 L695.82,366.64 L697.24,371.25 L698.67,371.08 L700.10,369.87 L701.52,371.17 L702.95,371.89 L704.37,370.42 L705.80,369.11 L707.23,365.33 L708.65,373.00 L710.08,369.71 L711.50,370.75 L712.93,372.41 L714.36,371.86 L715.78,371.10 L717.21,367.40 L718.63,369.87 L720.06,371.13 L721.49,368.65 L722.91,369.79 L724.34,371.49 L725.76,370.52 L727.19,374.38 L728.62,371.22 L730.04,372.24 L731.47,375.12 L732.89,378.00 L734.32,371.11 L735.75,374.71 L737.17,368.41 L738.60,377.12 L740.02,373.79 L741.45,376.76 L742.88,375.03 L744.30,373.74 L745.73,378.23 L747.15,376.35 L748.58,375.77 L750.01,376.01 L751.43,374.90 L752.86,374.01 L754.28,374.61 L755.71,376.21 L757.14,378.11 L758.56,380.76 L759.99,379.89 L761.41,379.64 L762.84,376.78 L764.27,379.85 L765.69,382.81 L767.12,377.80 L768.54,381.97 L769.97,382.11 L771.40,380.80 L772.82,379.19 L774.25,388.62 L775.67,384.16" fill="none" stroke="#f82428" stroke-width="3.1" stroke-linejoin="round" stroke-linecap="round"/><path d="M64.10,464.12 L65.53,481.38 L66.95,468.42 L68.38,471.70 L69.80,471.18 L71.23,470.25 L72.66,477.86 L74.08,470.13 L75.51,472.41 L76.93,460.41 L78.36,468.34 L79.79,470.22 L81.21,469.89 L82.64,471.23 L84.06,472.69 L85.49,470.05 L86.92,467.06 L88.34,469.36 L89.77,465.50 L91.19,469.08 L92.62,468.25 L94.05,463.68 L95.47,472.16 L96.90,469.91 L98.32,468.69 L99.75,466.28 L101.18,462.37 L102.60,468.83 L104.03,468.68 L105.45,464.70 L106.88,471.00 L108.31,469.09 L109.73,464.91 L111.16,465.77 L112.58,478.70 L114.01,465.42 L115.44,480.79 L116.86,464.32 L118.29,470.97 L119.71,474.06 L121.14,466.45 L122.57,465.10 L123.99,468.84 L125.42,471.26 L126.84,467.11 L128.27,467.33 L129.70,462.90 L131.12,464.70 L132.55,466.37 L133.97,463.55 L135.40,467.61 L136.83,470.25 L138.25,464.91 L139.68,464.85 L141.10,467.38 L142.53,469.40 L143.96,465.72 L145.38,477.51 L146.81,464.10 L148.23,464.60 L149.66,472.59 L151.09,465.74 L152.51,469.38 L153.94,463.31 L155.36,474.07 L156.79,468.78 L158.22,463.04 L159.64,461.62 L161.07,474.16 L162.49,466.60 L163.92,463.63 L165.35,466.71 L166.77,459.70 L168.20,468.74 L169.62,462.94 L171.05,467.83 L172.48,459.58 L173.90,463.70 L175.33,464.77 L176.75,471.37 L178.18,458.26 L179.61,460.68 L181.03,460.53 L182.46,459.29 L183.88,461.47 L185.31,464.72 L186.74,465.19 L188.16,465.03 L189.59,457.92 L191.01,467.48 L192.44,463.79 L193.87,462.63 L195.29,460.64 L196.72,459.40 L198.14,465.74 L199.57,467.74 L201.00,460.75 L202.42,456.95 L203.85,458.08 L205.27,459.57 L206.70,461.18 L208.13,459.01 L209.55,465.70 L210.98,457.13 L212.40,462.29 L213.83,458.90 L215.26,459.55 L216.68,457.34 L218.11,458.17 L219.53,451.89 L220.96,454.29 L222.39,454.16 L223.81,466.46 L225.24,459.33 L226.66,460.13 L228.09,458.68 L229.52,467.08 L230.94,454.25 L232.37,454.42 L233.79,462.12 L235.22,460.71 L236.65,459.91 L238.07,456.92 L239.50,455.00 L240.92,451.26 L242.35,457.31 L243.78,454.29 L245.20,455.95 L246.63,451.48 L248.05,454.82 L249.48,452.21 L250.91,459.58 L252.33,456.37 L253.76,458.32 L255.18,451.37 L256.61,453.44 L258.04,456.68 L259.46,456.48 L260.89,453.50 L262.31,456.99 L263.74,457.61 L265.17,453.05 L266.59,448.10 L268.02,454.84 L269.44,455.64 L270.87,457.54 L272.30,457.93 L273.72,451.95 L275.15,450.93 L276.57,453.02 L278.00,451.95 L279.43,452.36 L280.85,452.12 L282.28,457.12 L283.70,453.44 L285.13,451.64 L286.56,454.01 L287.98,452.90 L289.41,453.71 L290.83,452.10 L292.26,448.90 L293.69,451.91 L295.11,451.04 L296.54,448.48 L297.96,448.70 L299.39,446.25 L300.82,455.97 L302.24,447.72 L303.67,450.75 L305.09,449.04 L306.52,447.29 L307.95,446.61 L309.37,446.55 L310.80,448.31 L312.22,445.13 L313.65,462.00 L315.08,448.48 L316.50,446.28 L317.93,449.06 L319.35,443.44 L320.78,445.38 L322.21,443.14 L323.63,447.15 L325.06,447.72 L326.48,446.38 L327.91,445.10 L329.34,447.55 L330.76,445.40 L332.19,445.96 L333.61,442.85 L335.04,446.79 L336.47,443.43 L337.89,446.26 L339.32,446.62 L340.74,445.87 L342.17,446.50 L343.60,443.82 L345.02,442.16 L346.45,443.26 L347.87,442.27 L349.30,440.57 L350.73,442.25 L352.15,442.06 L353.58,442.43 L355.00,444.12 L356.43,440.38 L357.86,443.56 L359.28,439.90 L360.71,440.40 L362.13,438.71 L363.56,439.76 L364.99,440.29 L366.41,438.56 L367.84,439.20 L369.26,438.41 L370.69,437.80 L372.12,437.59 L373.54,437.26 L374.97,437.47 L376.39,436.47 L377.82,439.76 L379.25,435.64 L380.67,436.09 L382.10,433.86 L383.52,433.37 L384.95,435.30 L386.38,433.31 L387.80,433.05 L389.23,433.18 L390.65,431.71 L392.08,431.82 L393.51,432.08 L394.93,430.70 L396.36,430.12 L397.78,429.48 L399.21,429.59 L400.64,428.19 L402.06,427.61 L403.49,427.84 L404.91,427.05 L406.34,426.21 L407.77,425.74 L409.19,424.26 L410.62,423.99 L412.04,423.48 L413.47,422.44 L414.90,421.20 L416.32,419.56 L417.75,418.96 L419.17,417.69 L420.00,416.94 L420.60,416.38 L420.70,416.30 L421.40,415.71 L422.03,415.17 L422.10,415.08 L422.80,414.24 L423.45,413.44 L423.50,413.41 L424.20,412.89 L424.88,412.37 L424.90,412.35 L425.60,411.51 L426.30,410.65 L426.30,410.65 L427.00,409.91 L427.70,409.15 L427.73,409.11 L428.40,408.25 L429.00,407.45 L429.10,407.32 L429.16,407.24 L429.80,406.48 L430.50,405.61 L430.58,405.50 L431.20,404.51 L431.90,403.34 L432.01,403.15 L432.60,402.25 L433.30,401.11 L433.43,400.88 L433.90,400.03 L434.00,399.84 L434.70,398.40 L434.86,398.04 L435.40,396.73 L436.10,394.92 L436.29,394.42 L436.80,393.03 L437.50,391.10 L437.71,390.52 L438.20,389.18 L438.30,388.91 L438.90,387.23 L439.14,386.54 L439.60,385.18 L440.30,383.09 L440.56,382.31 L441.00,381.04 L441.70,379.09 L441.99,378.32 L442.20,377.78 L442.40,377.28 L443.10,375.59 L443.42,374.85 L443.80,373.97 L444.50,372.42 L444.84,371.67 L445.20,370.90 L445.90,369.42 L446.27,368.65 L446.60,367.95 L447.20,366.69 L447.30,366.48 L447.69,365.67 L448.00,365.06 L448.70,363.70 L449.12,362.90 L449.40,362.38 L450.10,361.06 L450.55,360.21 L450.80,359.72 L451.50,358.34 L451.97,357.38 L452.20,356.90 L452.80,355.59 L452.90,355.37 L453.40,354.27 L453.60,353.83 L454.30,352.30 L454.82,351.11 L455.00,350.70 L455.70,348.95 L456.25,347.43 L456.40,346.99 L457.10,344.75 L457.20,344.40 L457.68,342.53 L457.80,341.98 L458.50,338.49 L459.10,335.08 L459.20,334.50 L459.40,333.29 L459.90,329.84 L460.53,324.95 L460.60,324.40 L460.90,322.20 L461.30,319.05 L461.95,313.53 L462.00,313.19 L462.70,309.87 L462.80,309.80 L463.38,312.37 L463.40,312.53 L464.10,319.38 L464.40,322.20 L464.80,325.98 L464.81,326.04 L465.50,332.58 L465.60,333.30 L466.20,336.94 L466.23,337.11 L466.90,340.41 L467.60,343.51 L467.66,343.77 L467.80,344.40 L468.30,346.64 L469.00,349.69 L469.08,350.05 L469.70,352.54 L470.40,355.00 L470.51,355.34 L470.60,355.61 L471.10,357.00 L471.80,358.77 L471.94,359.09 L472.50,360.38 L473.20,361.86 L473.36,362.19 L473.90,363.28 L474.60,364.67 L474.79,365.04 L475.30,366.08 L475.60,366.70 L476.00,367.54 L476.21,367.99 L476.70,369.00 L477.40,370.44 L477.64,370.93 L478.10,371.85 L478.80,373.24 L479.07,373.77 L479.50,374.61 L480.20,375.98 L480.49,376.55 L480.90,377.38 L481.10,377.79 L481.60,378.77 L481.92,379.37 L482.30,380.03 L483.00,381.21 L483.34,381.78 L483.70,382.41 L484.40,383.70 L484.77,384.42 L485.10,385.07 L485.80,386.58 L486.20,387.53 L486.50,388.33 L486.70,388.88 L487.20,390.54 L487.62,392.24 L487.90,393.48 L488.60,396.74 L489.05,398.74 L489.30,399.74 L489.40,400.11 L490.00,402.40 L490.47,404.24 L490.70,405.10 L491.40,407.51 L491.90,408.86 L492.10,409.32 L492.20,409.52 L492.80,410.59 L493.33,411.44 L493.50,411.69 L494.20,412.63 L494.75,413.30 L494.90,413.44 L495.60,414.04 L496.18,414.49 L496.30,414.61 L497.00,415.29 L497.60,415.84 L497.70,415.92 L498.40,416.55 L498.90,416.99 L499.03,417.11 L499.10,417.15 L499.80,417.54 L500.46,417.87 L500.50,417.88 L501.20,418.13 L501.88,418.35 L501.90,418.36 L502.60,418.86 L503.30,419.35 L503.31,419.36 L504.00,419.56 L504.70,419.78 L504.73,419.79 L506.16,420.48 L507.59,421.77 L509.01,423.09 L510.44,424.20 L511.86,424.85 L513.29,426.53 L514.72,426.78 L516.14,427.61 L517.57,428.93 L518.99,429.37 L520.42,430.44 L521.85,430.98 L523.27,432.13 L524.70,432.89 L526.12,433.23 L527.55,433.65 L528.98,434.04 L530.40,433.35 L531.83,435.69 L533.25,432.57 L534.68,434.37 L536.11,436.04 L537.53,435.29 L538.96,436.06 L540.38,437.47 L541.81,436.24 L543.24,438.51 L544.66,441.64 L546.09,437.76 L547.51,439.74 L548.94,437.82 L550.37,440.70 L551.79,441.86 L553.22,438.84 L554.64,442.67 L556.07,441.30 L557.50,440.01 L558.92,442.23 L560.35,442.92 L561.77,443.05 L563.20,442.30 L564.63,445.46 L566.05,443.42 L567.48,443.86 L568.90,441.39 L570.33,446.34 L571.76,447.96 L573.18,445.03 L574.61,447.66 L576.03,446.56 L577.46,447.20 L578.89,445.38 L580.31,449.59 L581.74,448.52 L583.16,455.60 L584.59,450.96 L586.02,445.65 L587.44,450.85 L588.87,451.10 L590.29,452.73 L591.72,448.31 L593.15,449.41 L594.57,453.24 L596.00,448.58 L597.42,449.71 L598.85,449.66 L600.28,452.48 L601.70,446.87 L603.13,450.07 L604.55,451.61 L605.98,452.92 L607.41,452.32 L608.83,449.62 L610.26,452.75 L611.68,449.41 L613.11,450.81 L614.54,449.11 L615.96,450.57 L617.39,453.11 L618.81,459.59 L620.24,452.51 L621.67,451.55 L623.09,453.74 L624.52,453.10 L625.94,456.53 L627.37,456.30 L628.80,457.65 L630.22,449.30 L631.65,449.78 L633.07,448.37 L634.50,447.28 L635.93,443.01 L637.35,438.97 L638.78,438.24 L640.20,437.58 L641.63,434.24 L643.06,433.07 L644.48,431.98 L645.00,431.44 L645.20,431.22 L645.40,430.99 L645.60,430.76 L645.80,430.52 L645.91,430.39 L646.00,430.26 L646.20,429.97 L646.40,429.67 L646.60,429.36 L646.80,429.04 L647.00,428.72 L647.20,428.38 L647.33,428.16 L647.40,428.06 L647.60,427.77 L647.80,427.47 L648.00,427.15 L648.20,426.83 L648.40,426.50 L648.60,426.16 L648.76,425.87 L648.80,425.79 L649.00,425.38 L649.20,424.95 L649.40,424.51 L649.60,424.05 L649.80,423.59 L650.00,423.10 L650.19,422.64 L650.20,422.61 L650.40,422.16 L650.60,421.68 L650.80,421.20 L651.00,420.69 L651.20,420.17 L651.40,419.62 L651.60,419.06 L651.61,419.02 L651.80,418.37 L652.00,417.66 L652.20,416.92 L652.40,416.16 L652.60,415.37 L652.80,414.56 L653.00,413.72 L653.04,413.56 L653.20,412.92 L653.40,412.10 L653.60,411.25 L653.80,410.36 L654.00,409.44 L654.20,408.48 L654.40,407.48 L654.46,407.15 L654.60,406.41 L654.80,405.28 L655.00,404.10 L655.20,402.87 L655.40,401.58 L655.60,400.23 L655.80,398.82 L655.89,398.16 L656.00,397.36 L656.20,395.84 L656.40,394.24 L656.60,392.55 L656.80,390.75 L657.00,388.85 L657.20,386.83 L657.32,385.60 L657.40,384.67 L657.60,382.33 L657.80,379.82 L658.00,377.13 L658.20,374.21 L658.40,371.04 L658.60,367.58 L658.74,364.92 L658.80,363.78 L659.00,359.57 L659.20,354.88 L659.40,349.61 L659.60,343.64 L659.80,336.93 L660.00,329.58 L660.17,323.41 L660.20,322.31 L660.40,317.24 L660.50,316.50 L660.60,317.25 L660.80,322.35 L661.00,329.65 L661.20,337.02 L661.40,343.76 L661.59,349.58 L661.60,349.75 L661.80,355.05 L662.00,359.77 L662.20,363.99 L662.40,367.81 L662.60,371.29 L662.80,374.47 L663.00,377.40 L663.02,377.68 L663.20,380.11 L663.40,382.62 L663.60,384.97 L663.80,387.17 L664.00,389.24 L664.20,391.18 L664.40,393.02 L664.45,393.43 L664.60,394.76 L664.80,396.41 L665.00,397.98 L665.20,399.47 L665.40,400.89 L665.60,402.25 L665.80,403.55 L665.87,404.00 L666.00,404.80 L666.20,406.01 L666.40,407.17 L666.60,408.28 L666.80,409.35 L667.00,410.38 L667.20,411.37 L667.30,411.84 L667.40,412.31 L667.60,413.21 L667.80,414.07 L668.00,414.91 L668.20,415.71 L668.40,416.49 L668.60,417.24 L668.72,417.70 L668.80,417.95 L669.00,418.62 L669.20,419.26 L669.40,419.88 L669.60,420.48 L669.80,421.06 L670.00,421.63 L670.15,422.03 L670.20,422.17 L670.40,422.71 L670.60,423.24 L670.80,423.75 L671.00,424.24 L671.20,424.72 L671.40,425.18 L671.58,425.58 L671.60,425.64 L671.80,426.16 L672.00,426.67 L672.20,427.17 L672.40,427.65 L672.60,428.13 L672.80,428.59 L673.00,429.04 L673.00,429.05 L673.20,429.43 L673.40,429.80 L673.60,430.16 L673.80,430.52 L674.00,430.86 L674.20,431.20 L674.40,431.53 L674.43,431.58 L674.60,431.84 L674.80,432.14 L675.00,432.43 L675.20,432.72 L675.40,433.00 L675.60,433.27 L675.80,433.53 L675.85,433.61 L677.28,434.71 L678.71,438.13 L680.13,439.63 L681.56,439.53 L682.98,441.89 L684.41,442.62 L685.84,442.51 L687.26,443.26 L688.69,447.03 L690.11,445.54 L691.54,451.57 L692.97,448.07 L694.39,453.50 L695.82,453.83 L697.24,450.39 L698.67,453.23 L700.10,454.50 L701.52,453.79 L702.95,451.79 L704.37,452.92 L705.80,452.82 L707.23,450.45 L708.65,454.30 L710.08,453.66 L711.50,453.77 L712.93,450.15 L714.36,450.63 L715.78,450.26 L717.21,453.37 L718.63,454.01 L720.06,452.10 L721.49,455.33 L722.91,452.79 L724.34,453.29 L725.76,457.01 L727.19,455.68 L728.62,456.02 L730.04,452.11 L731.47,450.71 L732.89,456.81 L734.32,456.85 L735.75,464.22 L737.17,457.17 L738.60,458.20 L740.02,461.69 L741.45,457.22 L742.88,464.29 L744.30,460.67 L745.73,460.19 L747.15,464.68 L748.58,459.37 L750.01,459.36 L751.43,466.54 L752.86,466.99 L754.28,461.54 L755.71,463.39 L757.14,467.08 L758.56,464.51 L759.99,464.16 L761.41,464.41 L762.84,462.03 L764.27,463.19 L765.69,459.97 L767.12,460.82 L768.54,462.39 L769.97,461.36 L771.40,460.67 L772.82,461.96 L774.25,467.19 L775.67,461.18" fill="none" stroke="#f82428" stroke-width="3.1" stroke-linejoin="round" stroke-linecap="round"/><path d="M64.10,559.61 L65.53,557.82 L66.95,552.37 L68.38,555.03 L69.80,563.61 L71.23,557.03 L72.66,559.19 L74.08,556.42 L75.51,563.24 L76.93,556.01 L78.36,555.98 L79.79,552.04 L81.21,555.62 L82.64,554.96 L84.06,562.40 L85.49,550.15 L86.92,564.35 L88.34,553.02 L89.77,557.50 L91.19,559.53 L92.62,558.60 L94.05,558.61 L95.47,554.92 L96.90,556.48 L98.32,551.64 L99.75,563.47 L101.18,555.97 L102.60,559.18 L104.03,553.43 L105.45,564.79 L106.88,556.98 L108.31,555.05 L109.73,561.50 L111.16,552.61 L112.58,555.03 L114.01,552.47 L115.44,554.02 L116.86,559.12 L118.29,558.35 L119.71,556.12 L121.14,553.02 L122.57,552.67 L123.99,557.85 L125.42,557.41 L126.84,558.10 L128.27,560.17 L129.70,555.93 L131.12,555.51 L132.55,549.12 L133.97,556.74 L135.40,555.89 L136.83,553.36 L138.25,558.29 L139.68,556.00 L141.10,554.60 L142.53,552.13 L143.96,559.53 L145.38,550.27 L146.81,555.51 L148.23,553.61 L149.66,551.41 L151.09,551.84 L152.51,550.55 L153.94,553.11 L155.36,553.61 L156.79,552.38 L158.22,556.96 L159.64,549.45 L161.07,555.80 L162.49,557.66 L163.92,546.85 L165.35,553.05 L166.77,556.91 L168.20,546.96 L169.62,553.35 L171.05,548.83 L172.48,554.99 L173.90,552.72 L175.33,558.52 L176.75,559.52 L178.18,555.19 L179.61,551.78 L181.03,548.95 L182.46,547.54 L183.88,555.17 L185.31,548.20 L186.74,553.41 L188.16,551.75 L189.59,556.96 L191.01,556.91 L192.44,553.92 L193.87,555.57 L195.29,551.03 L196.72,553.48 L198.14,547.12 L199.57,550.32 L201.00,550.19 L202.42,547.95 L203.85,548.78 L205.27,550.37 L206.70,550.33 L208.13,550.19 L209.55,546.24 L210.98,546.80 L212.40,547.77 L213.83,546.17 L215.26,550.24 L216.68,546.35 L218.11,552.85 L219.53,543.01 L220.96,546.12 L222.39,545.24 L223.81,543.43 L225.24,544.76 L226.66,545.07 L228.09,540.45 L229.52,543.21 L230.94,546.48 L232.37,541.93 L233.79,549.31 L235.22,538.51 L236.65,543.47 L238.07,542.72 L239.50,536.90 L240.92,537.08 L242.35,542.30 L243.78,540.75 L245.20,539.42 L246.63,537.85 L248.05,542.63 L249.48,541.66 L250.91,538.50 L252.33,540.72 L253.76,538.95 L255.18,538.81 L256.61,543.35 L258.04,541.72 L259.46,547.35 L260.89,538.63 L262.31,534.29 L263.74,539.61 L265.17,533.32 L266.59,533.13 L268.02,534.64 L269.44,533.98 L270.87,533.43 L272.30,535.29 L273.72,534.07 L275.15,533.59 L276.57,532.33 L278.00,532.00 L279.43,535.03 L280.85,531.93 L282.28,535.10 L283.70,533.84 L285.13,532.78 L286.56,535.64 L287.98,534.08 L289.41,533.57 L290.83,535.64 L292.26,536.18 L293.69,535.38 L295.11,533.01 L296.54,535.20 L297.96,531.18 L299.39,534.36 L300.82,542.50 L302.24,535.52 L303.67,531.20 L305.09,534.23 L306.52,535.00 L307.95,535.78 L309.37,531.65 L310.80,531.72 L312.22,532.19 L313.65,532.51 L315.08,530.57 L316.50,536.62 L317.93,535.33 L319.35,531.30 L320.78,532.20 L322.21,532.54 L323.63,530.84 L325.06,531.94 L326.48,537.82 L327.91,529.12 L329.34,529.77 L330.76,531.48 L332.19,531.71 L333.61,530.53 L335.04,532.89 L336.47,530.03 L337.89,530.67 L339.32,530.65 L340.74,531.34 L342.17,530.72 L343.60,527.94 L345.02,527.46 L346.45,528.39 L347.87,528.95 L349.30,529.93 L350.73,527.55 L352.15,526.28 L353.58,530.32 L355.00,526.45 L356.43,530.63 L357.86,527.90 L359.28,526.81 L360.71,528.75 L362.13,528.68 L363.56,526.38 L364.99,525.40 L366.41,526.64 L367.84,524.47 L369.26,526.44 L370.69,523.62 L372.12,524.93 L373.54,524.53 L374.97,523.89 L376.39,523.85 L377.82,522.23 L379.25,521.65 L380.67,522.67 L382.10,522.88 L383.52,523.29 L384.95,522.47 L386.38,521.41 L387.80,520.98 L389.23,520.41 L390.65,519.81 L392.08,518.91 L393.51,519.36 L394.93,518.47 L396.36,516.66 L397.78,516.10 L399.21,515.98 L400.64,514.40 L402.06,514.27 L403.49,513.04 L404.91,512.41 L406.34,510.62 L407.77,509.29 L409.19,507.70 L410.62,506.44 L412.04,505.01 L413.47,503.35 L414.90,501.62 L416.32,500.46 L417.75,499.28 L419.17,498.15 L420.00,497.45 L420.60,496.93 L420.70,496.85 L421.40,496.25 L422.03,495.67 L422.10,495.59 L422.20,495.49 L422.80,494.87 L423.45,494.20 L423.50,494.16 L424.20,493.55 L424.88,492.95 L424.90,492.92 L425.60,492.11 L426.30,491.26 L426.30,491.25 L427.00,490.47 L427.70,489.61 L427.73,489.58 L428.40,488.57 L428.90,487.77 L429.10,487.43 L429.16,487.33 L429.80,486.09 L430.50,484.51 L430.58,484.32 L431.20,482.76 L431.90,480.98 L432.01,480.70 L432.60,479.30 L432.80,478.85 L433.30,477.74 L433.43,477.45 L434.00,476.18 L434.70,474.62 L434.86,474.26 L435.40,473.04 L436.10,471.47 L436.29,471.06 L436.80,469.93 L437.50,468.43 L437.71,467.98 L437.80,467.79 L438.20,466.95 L438.90,465.51 L439.14,465.03 L439.60,464.09 L440.30,462.68 L440.56,462.15 L441.00,461.28 L441.70,459.89 L441.99,459.32 L442.40,458.49 L443.10,457.07 L443.30,456.66 L443.42,456.43 L443.80,455.69 L444.50,454.37 L444.84,453.75 L445.20,453.08 L445.90,451.77 L446.27,451.08 L446.60,450.45 L447.30,449.09 L447.69,448.29 L448.00,447.64 L448.70,446.08 L448.90,445.61 L449.12,445.08 L449.40,444.39 L450.10,442.57 L450.55,441.34 L450.80,440.63 L451.50,438.56 L451.97,437.10 L452.20,436.37 L452.80,434.40 L452.90,434.06 L453.40,432.37 L453.60,431.67 L454.30,429.10 L454.82,426.97 L455.00,426.19 L455.60,423.30 L455.70,422.76 L456.25,419.08 L456.40,417.96 L457.10,412.84 L457.20,412.20 L457.68,408.82 L457.80,407.89 L458.50,403.50 L458.90,402.60 L459.10,402.82 L459.20,403.07 L459.90,406.87 L460.53,411.66 L460.60,412.20 L460.60,412.20 L461.30,419.01 L461.70,423.30 L461.95,425.99 L462.00,426.50 L462.70,433.62 L462.80,434.40 L463.38,438.47 L463.40,438.60 L464.10,442.35 L464.40,443.30 L464.80,444.09 L464.81,444.10 L465.50,445.05 L466.20,445.81 L466.23,445.85 L466.70,446.49 L466.90,446.81 L467.60,447.98 L467.66,448.08 L468.30,449.21 L469.00,450.50 L469.08,450.66 L469.70,451.83 L470.40,453.18 L470.51,453.40 L471.10,454.56 L471.80,455.94 L471.94,456.21 L472.20,456.71 L472.50,457.28 L473.20,458.60 L473.36,458.91 L473.90,459.93 L474.60,461.27 L474.79,461.63 L475.30,462.63 L476.00,464.01 L476.21,464.45 L476.70,465.43 L477.40,466.91 L477.64,467.43 L477.80,467.78 L478.10,468.46 L478.80,470.13 L479.07,470.79 L479.50,471.87 L480.20,473.65 L480.49,474.41 L480.90,475.48 L481.60,477.32 L481.92,478.13 L482.20,478.84 L482.30,479.09 L483.00,480.92 L483.34,481.85 L483.70,482.84 L484.40,484.76 L484.77,485.76 L485.10,486.60 L485.80,488.25 L486.20,489.09 L486.50,489.66 L486.70,490.01 L487.20,490.80 L487.62,491.43 L487.90,491.87 L488.60,492.92 L489.05,493.55 L489.30,493.78 L490.00,494.40 L490.47,494.79 L490.70,495.06 L491.10,495.54 L491.40,495.88 L491.90,496.45 L492.10,496.65 L492.80,497.31 L493.33,497.79 L493.50,497.93 L494.20,498.48 L494.75,498.89 L494.90,498.99 L495.60,499.44 L496.18,499.80 L496.30,499.88 L497.00,500.36 L497.60,500.77 L497.70,500.86 L497.80,500.95 L498.40,501.47 L499.03,502.01 L499.10,502.05 L499.80,502.46 L500.46,502.83 L500.50,502.86 L501.20,503.35 L501.88,503.82 L501.90,503.83 L502.60,504.35 L503.30,504.86 L503.31,504.87 L504.00,505.18 L504.70,505.48 L504.73,505.50 L506.16,506.37 L507.59,507.56 L509.01,507.76 L510.44,509.24 L511.86,509.55 L513.29,510.70 L514.72,511.42 L516.14,512.16 L517.57,512.44 L518.99,513.92 L520.42,514.29 L521.85,514.35 L523.27,516.09 L524.70,516.59 L526.12,517.03 L527.55,518.48 L528.98,518.67 L530.40,520.15 L531.83,520.03 L533.25,521.20 L534.68,522.71 L536.11,521.58 L537.53,523.46 L538.96,524.29 L540.38,525.56 L541.81,525.74 L543.24,525.95 L544.66,526.23 L546.09,525.72 L547.51,529.21 L548.94,528.47 L550.37,526.95 L551.79,528.68 L553.22,528.76 L554.64,527.49 L556.07,529.58 L557.50,529.72 L558.92,530.82 L560.35,528.31 L561.77,529.56 L563.20,532.70 L564.63,530.70 L566.05,533.93 L567.48,530.14 L568.90,530.97 L570.33,532.58 L571.76,533.17 L573.18,536.18 L574.61,533.87 L576.03,532.90 L577.46,533.30 L578.89,531.41 L580.31,533.96 L581.74,533.71 L583.16,533.78 L584.59,534.92 L586.02,528.22 L587.44,532.24 L588.87,532.32 L590.29,530.05 L591.72,537.68 L593.15,531.35 L594.57,533.06 L596.00,533.60 L597.42,531.54 L598.85,537.23 L600.28,533.40 L601.70,532.17 L603.13,539.73 L604.55,538.29 L605.98,535.69 L607.41,535.80 L608.83,537.70 L610.26,535.61 L611.68,536.18 L613.11,540.74 L614.54,537.69 L615.96,541.54 L617.39,545.03 L618.81,547.20 L620.24,536.96 L621.67,540.39 L623.09,535.31 L624.52,544.78 L625.94,540.63 L627.37,539.75 L628.80,538.26 L630.22,535.61 L631.65,535.32 L633.07,535.80 L634.50,538.21 L635.93,533.35 L637.35,527.64 L638.78,527.52 L640.20,525.39 L641.63,525.86 L643.06,523.51 L644.48,521.80 L645.00,520.63 L645.20,520.16 L645.40,519.69 L645.60,519.21 L645.80,518.72 L645.91,518.45 L646.00,518.29 L646.20,517.94 L646.40,517.58 L646.60,517.20 L646.80,516.82 L647.00,516.43 L647.20,516.04 L647.33,515.76 L647.40,515.61 L647.60,515.15 L647.80,514.68 L648.00,514.20 L648.20,513.71 L648.40,513.20 L648.60,512.69 L648.76,512.27 L648.80,512.16 L649.00,511.60 L649.20,511.03 L649.40,510.44 L649.60,509.84 L649.80,509.23 L650.00,508.60 L650.19,508.01 L650.20,507.97 L650.40,507.43 L650.60,506.88 L650.80,506.31 L651.00,505.73 L651.20,505.12 L651.40,504.50 L651.60,503.86 L651.61,503.82 L651.80,503.09 L652.00,502.29 L652.20,501.47 L652.40,500.62 L652.60,499.75 L652.80,498.86 L653.00,497.93 L653.04,497.76 L653.20,497.03 L653.40,496.11 L653.60,495.16 L653.80,494.18 L654.00,493.16 L654.20,492.10 L654.40,491.01 L654.46,490.65 L654.60,489.84 L654.80,488.61 L655.00,487.33 L655.20,486.00 L655.40,484.62 L655.60,483.18 L655.80,481.67 L655.89,480.97 L656.00,480.12 L656.20,478.50 L656.40,476.80 L656.60,475.02 L656.80,473.14 L657.00,471.15 L657.20,469.05 L657.32,467.77 L657.40,466.81 L657.60,464.42 L657.80,461.86 L658.00,459.11 L658.20,456.15 L658.40,452.93 L658.60,449.43 L658.74,446.74 L658.80,445.58 L659.00,441.33 L659.20,436.60 L659.40,431.28 L659.60,425.28 L659.80,418.53 L660.00,411.15 L660.17,404.95 L660.20,403.85 L660.40,398.75 L660.50,398.00 L660.60,398.74 L660.80,403.82 L661.00,411.09 L661.20,418.45 L661.40,425.18 L661.59,430.99 L661.60,431.16 L661.80,436.45 L662.00,441.17 L662.20,445.40 L662.40,449.23 L662.60,452.71 L662.80,455.90 L663.00,458.84 L663.02,459.13 L663.20,461.57 L663.40,464.11 L663.60,466.48 L663.80,468.71 L664.00,470.80 L664.20,472.78 L664.40,474.65 L664.45,475.07 L664.60,476.43 L664.80,478.12 L665.00,479.73 L665.20,481.27 L665.40,482.74 L665.60,484.14 L665.80,485.49 L665.87,485.96 L666.00,486.77 L666.20,487.99 L666.40,489.17 L666.60,490.30 L666.80,491.38 L667.00,492.43 L667.20,493.45 L667.30,493.93 L667.40,494.44 L667.60,495.42 L667.80,496.36 L668.00,497.28 L668.20,498.17 L668.40,499.03 L668.60,499.87 L668.72,500.37 L668.80,500.67 L669.00,501.43 L669.20,502.18 L669.40,502.90 L669.60,503.60 L669.80,504.28 L670.00,504.94 L670.15,505.42 L670.20,505.58 L670.40,506.20 L670.60,506.80 L670.80,507.38 L671.00,507.95 L671.20,508.50 L671.40,509.04 L671.58,509.50 L671.60,509.56 L671.80,510.05 L672.00,510.53 L672.20,510.99 L672.40,511.45 L672.60,511.89 L672.80,512.32 L673.00,512.74 L673.00,512.74 L673.20,513.26 L673.40,513.77 L673.60,514.27 L673.80,514.76 L674.00,515.25 L674.20,515.72 L674.40,516.18 L674.43,516.25 L674.60,516.49 L674.80,516.76 L675.00,517.02 L675.20,517.28 L675.40,517.52 L675.60,517.76 L675.80,517.99 L675.85,518.06 L677.28,519.42 L678.71,523.67 L680.13,523.08 L681.56,524.55 L682.98,527.28 L684.41,527.27 L685.84,530.56 L687.26,529.56 L688.69,531.32 L690.11,531.34 L691.54,533.96 L692.97,534.62 L694.39,534.71 L695.82,535.85 L697.24,536.34 L698.67,538.18 L700.10,538.60 L701.52,537.20 L702.95,536.49 L704.37,543.45 L705.80,538.02 L707.23,540.58 L708.65,542.00 L710.08,543.09 L711.50,542.29 L712.93,542.58 L714.36,540.33 L715.78,544.88 L717.21,539.69 L718.63,544.80 L720.06,541.73 L721.49,541.55 L722.91,548.39 L724.34,542.97 L725.76,541.09 L727.19,547.66 L728.62,545.05 L730.04,548.12 L731.47,546.30 L732.89,546.98 L734.32,547.80 L735.75,544.56 L737.17,544.15 L738.60,546.31 L740.02,542.73 L741.45,543.81 L742.88,545.02 L744.30,549.24 L745.73,543.31 L747.15,545.12 L748.58,555.74 L750.01,552.61 L751.43,551.09 L752.86,547.78 L754.28,547.45 L755.71,551.70 L757.14,550.60 L758.56,549.77 L759.99,555.56 L761.41,550.37 L762.84,552.77 L764.27,551.44 L765.69,552.05 L767.12,555.36 L768.54,554.71 L769.97,551.62 L771.40,551.25 L772.82,552.13 L774.25,548.53 L775.67,551.88" fill="none" stroke="#0a2bff" stroke-width="3.1" stroke-linejoin="round" stroke-linecap="round"/><path d="M64.10,646.88 L65.53,648.99 L66.95,644.70 L68.38,642.41 L69.80,640.24 L71.23,643.28 L72.66,647.94 L74.08,646.37 L75.51,641.10 L76.93,638.58 L78.36,642.44 L79.79,647.97 L81.21,646.75 L82.64,638.43 L84.06,642.43 L85.49,650.02 L86.92,643.27 L88.34,647.32 L89.77,645.12 L91.19,644.54 L92.62,645.33 L94.05,640.94 L95.47,642.87 L96.90,644.70 L98.32,641.23 L99.75,642.86 L101.18,649.01 L102.60,643.30 L104.03,645.99 L105.45,651.90 L106.88,652.11 L108.31,642.17 L109.73,642.33 L111.16,643.21 L112.58,646.02 L114.01,643.46 L115.44,646.13 L116.86,647.23 L118.29,641.23 L119.71,647.72 L121.14,638.32 L122.57,639.59 L123.99,650.14 L125.42,640.88 L126.84,645.86 L128.27,641.58 L129.70,641.51 L131.12,649.88 L132.55,642.37 L133.97,642.40 L135.40,638.49 L136.83,645.88 L138.25,639.04 L139.68,645.43 L141.10,642.40 L142.53,644.26 L143.96,636.81 L145.38,639.25 L146.81,634.22 L148.23,638.89 L149.66,638.21 L151.09,638.15 L152.51,642.87 L153.94,640.87 L155.36,636.49 L156.79,641.85 L158.22,639.76 L159.64,640.37 L161.07,638.27 L162.49,641.39 L163.92,640.56 L165.35,639.15 L166.77,639.52 L168.20,642.93 L169.62,637.04 L171.05,644.55 L172.48,644.04 L173.90,644.29 L175.33,636.31 L176.75,640.46 L178.18,642.70 L179.61,643.29 L181.03,637.57 L182.46,642.77 L183.88,643.60 L185.31,636.70 L186.74,643.08 L188.16,639.59 L189.59,638.40 L191.01,639.84 L192.44,638.37 L193.87,634.07 L195.29,639.82 L196.72,642.69 L198.14,647.67 L199.57,638.40 L201.00,638.82 L202.42,636.63 L203.85,639.02 L205.27,638.96 L206.70,639.76 L208.13,638.89 L209.55,636.42 L210.98,638.14 L212.40,636.37 L213.83,631.12 L215.26,634.92 L216.68,642.50 L218.11,631.15 L219.53,634.92 L220.96,639.33 L222.39,632.95 L223.81,635.53 L225.24,637.58 L226.66,637.47 L228.09,638.68 L229.52,634.70 L230.94,631.43 L232.37,635.57 L233.79,632.91 L235.22,628.70 L236.65,638.31 L238.07,632.77 L239.50,634.40 L240.92,636.96 L242.35,636.59 L243.78,632.73 L245.20,631.09 L246.63,634.00 L248.05,631.79 L249.48,629.55 L250.91,630.57 L252.33,628.68 L253.76,629.61 L255.18,629.30 L256.61,625.55 L258.04,628.46 L259.46,629.69 L260.89,627.78 L262.31,632.69 L263.74,630.46 L265.17,626.89 L266.59,627.11 L268.02,624.53 L269.44,628.40 L270.87,633.11 L272.30,622.95 L273.72,624.75 L275.15,630.79 L276.57,623.62 L278.00,626.86 L279.43,632.66 L280.85,627.66 L282.28,627.66 L283.70,622.05 L285.13,627.98 L286.56,626.15 L287.98,625.97 L289.41,626.00 L290.83,627.27 L292.26,623.96 L293.69,621.74 L295.11,622.55 L296.54,626.27 L297.96,626.65 L299.39,623.11 L300.82,624.95 L302.24,624.52 L303.67,627.17 L305.09,618.55 L306.52,620.41 L307.95,624.54 L309.37,635.00 L310.80,619.09 L312.22,627.76 L313.65,622.70 L315.08,622.15 L316.50,619.81 L317.93,621.21 L319.35,621.27 L320.78,620.73 L322.21,617.04 L323.63,616.40 L325.06,621.14 L326.48,621.79 L327.91,615.17 L329.34,621.48 L330.76,620.44 L332.19,619.08 L333.61,618.10 L335.04,617.00 L336.47,617.87 L337.89,619.90 L339.32,617.27 L340.74,617.47 L342.17,614.80 L343.60,617.45 L345.02,619.44 L346.45,620.02 L347.87,615.84 L349.30,617.31 L350.73,619.62 L352.15,616.86 L353.58,615.76 L355.00,613.94 L356.43,616.67 L357.86,614.13 L359.28,613.72 L360.71,615.36 L362.13,614.41 L363.56,611.87 L364.99,614.82 L366.41,612.34 L367.84,612.62 L369.26,611.48 L370.69,612.50 L372.12,612.12 L373.54,612.55 L374.97,611.32 L376.39,611.04 L377.82,608.24 L379.25,611.83 L380.67,608.77 L382.10,608.36 L383.52,609.12 L384.95,607.67 L386.38,609.71 L387.80,607.50 L389.23,606.49 L390.65,608.08 L392.08,606.63 L393.51,604.71 L394.93,604.79 L396.36,604.96 L397.78,603.41 L399.21,602.69 L400.64,601.31 L402.06,600.39 L403.49,599.43 L404.91,598.17 L406.34,596.52 L407.77,594.68 L409.19,593.86 L410.62,591.95 L412.04,590.76 L413.47,589.97 L414.90,588.41 L416.32,587.04 L417.75,585.94 L419.17,584.88 L420.00,584.28 L420.60,583.86 L420.70,583.78 L421.40,583.17 L422.03,582.63 L422.10,582.57 L422.80,582.06 L423.45,581.55 L423.50,581.51 L424.20,580.88 L424.88,580.22 L424.90,580.20 L425.60,579.43 L425.60,579.43 L426.30,578.51 L426.30,578.50 L427.00,577.38 L427.70,576.12 L427.73,576.06 L428.30,574.98 L428.40,574.78 L429.10,573.27 L429.16,573.14 L429.80,571.55 L430.50,569.70 L430.58,569.48 L431.20,567.84 L431.90,566.02 L432.01,565.75 L432.60,564.31 L432.80,563.86 L433.30,562.76 L433.43,562.47 L434.00,561.28 L434.70,559.86 L434.86,559.54 L435.40,558.48 L436.10,557.12 L436.29,556.76 L436.80,555.76 L437.50,554.38 L437.71,553.97 L438.20,553.00 L438.30,552.80 L438.90,551.60 L439.14,551.13 L439.60,550.23 L440.30,548.88 L440.56,548.36 L441.00,547.51 L441.70,546.14 L441.99,545.56 L442.40,544.75 L443.10,543.33 L443.42,542.69 L443.80,541.90 L443.90,541.69 L444.50,540.46 L444.84,539.77 L445.20,539.04 L445.90,537.61 L446.27,536.84 L446.60,536.13 L447.30,534.56 L447.69,533.64 L448.00,532.91 L448.70,531.13 L448.90,530.60 L449.12,529.99 L449.40,529.19 L450.10,527.06 L450.55,525.59 L450.80,524.72 L451.50,522.17 L451.97,520.33 L452.20,519.40 L452.20,519.40 L452.90,516.27 L453.40,513.78 L453.60,512.72 L454.30,508.86 L454.40,508.29 L454.82,505.71 L455.00,504.57 L455.70,499.85 L456.10,497.20 L456.25,496.15 L456.40,494.96 L457.10,489.37 L457.60,487.60 L457.68,487.66 L457.80,487.99 L458.50,493.39 L458.90,497.20 L459.10,499.03 L459.20,499.98 L459.90,507.28 L460.00,508.30 L460.53,514.03 L460.60,514.81 L461.10,519.40 L461.30,520.77 L461.95,524.78 L462.00,525.03 L462.70,528.43 L463.30,530.61 L463.38,530.85 L463.40,530.91 L464.10,532.81 L464.80,534.41 L464.81,534.42 L465.50,535.81 L466.20,537.05 L466.23,537.11 L466.90,538.21 L467.60,539.35 L467.66,539.45 L468.30,540.56 L468.90,541.70 L469.00,541.90 L469.08,542.06 L469.70,543.31 L470.40,544.72 L470.51,544.94 L471.10,546.09 L471.80,547.46 L471.94,547.73 L472.50,548.87 L473.20,550.31 L473.36,550.64 L473.90,551.75 L474.40,552.81 L474.60,553.23 L474.79,553.62 L475.30,554.70 L476.00,556.17 L476.21,556.63 L476.70,557.68 L477.40,559.23 L477.64,559.77 L478.10,560.79 L478.80,562.41 L479.07,563.04 L479.40,563.88 L479.50,564.14 L480.20,566.05 L480.49,566.89 L480.90,568.08 L481.60,570.17 L481.92,571.12 L482.30,572.25 L483.00,574.24 L483.30,575.06 L483.34,575.17 L483.70,576.13 L484.40,578.11 L484.77,579.17 L485.10,580.11 L485.80,582.03 L486.20,583.03 L486.50,583.78 L487.20,585.27 L487.62,585.96 L487.80,586.19 L487.90,586.31 L488.60,587.07 L489.05,587.49 L489.30,587.62 L490.00,587.92 L490.47,588.08 L490.70,588.27 L491.40,588.85 L491.90,589.25 L492.10,589.29 L492.80,589.47 L493.33,589.63 L493.50,589.77 L494.20,590.37 L494.40,590.56 L494.75,590.91 L494.90,591.06 L495.60,591.81 L496.18,592.47 L496.30,592.60 L497.00,593.36 L497.60,593.99 L497.70,594.07 L498.40,594.60 L498.90,594.91 L499.03,594.98 L499.10,595.02 L499.80,595.46 L500.46,595.84 L500.50,595.87 L501.20,596.46 L501.88,597.01 L501.90,597.02 L502.60,597.25 L503.30,597.46 L503.31,597.47 L504.00,597.65 L504.70,597.83 L504.73,597.83 L506.16,599.29 L507.59,600.35 L509.01,601.07 L510.44,601.97 L511.86,602.39 L513.29,603.15 L514.72,604.17 L516.14,603.92 L517.57,606.36 L518.99,606.32 L520.42,605.24 L521.85,606.19 L523.27,607.17 L524.70,607.87 L526.12,607.55 L527.55,609.11 L528.98,610.14 L530.40,612.03 L531.83,611.56 L533.25,612.88 L534.68,613.49 L536.11,614.11 L537.53,613.88 L538.96,614.76 L540.38,613.72 L541.81,617.17 L543.24,615.96 L544.66,613.62 L546.09,616.49 L547.51,615.17 L548.94,615.59 L550.37,615.64 L551.79,616.84 L553.22,620.97 L554.64,619.23 L556.07,619.79 L557.50,622.57 L558.92,620.66 L560.35,622.70 L561.77,624.07 L563.20,620.28 L564.63,621.09 L566.05,622.82 L567.48,623.76 L568.90,623.09 L570.33,623.03 L571.76,623.35 L573.18,622.79 L574.61,623.99 L576.03,622.31 L577.46,622.26 L578.89,622.91 L580.31,625.79 L581.74,625.98 L583.16,623.55 L584.59,628.95 L586.02,625.34 L587.44,633.78 L588.87,635.11 L590.29,625.19 L591.72,625.49 L593.15,623.12 L594.57,625.01 L596.00,626.61 L597.42,627.46 L598.85,632.49 L600.28,625.60 L601.70,632.76 L603.13,627.20 L604.55,628.40 L605.98,628.53 L607.41,627.13 L608.83,631.62 L610.26,631.59 L611.68,633.51 L613.11,632.04 L614.54,626.32 L615.96,632.22 L617.39,627.58 L618.81,628.43 L620.24,628.46 L621.67,627.96 L623.09,633.40 L624.52,628.46 L625.94,624.84 L627.37,630.87 L628.80,628.26 L630.22,629.62 L631.65,625.96 L633.07,629.13 L634.50,620.77 L635.93,623.60 L637.35,624.21 L638.78,615.83 L640.20,615.54 L641.63,614.51 L643.06,612.58 L644.48,611.24 L645.00,610.27 L645.20,609.89 L645.40,609.50 L645.60,609.10 L645.80,608.70 L645.91,608.48 L646.00,608.26 L646.20,607.78 L646.40,607.30 L646.60,606.81 L646.80,606.30 L647.00,605.79 L647.20,605.28 L647.33,604.92 L647.40,604.78 L647.60,604.32 L647.80,603.86 L648.00,603.38 L648.20,602.90 L648.40,602.40 L648.60,601.90 L648.76,601.49 L648.80,601.38 L649.00,600.86 L649.20,600.33 L649.40,599.79 L649.60,599.23 L649.80,598.66 L650.00,598.08 L650.19,597.52 L650.20,597.48 L650.40,596.89 L650.60,596.27 L650.80,595.65 L651.00,595.00 L651.20,594.34 L651.40,593.65 L651.60,592.95 L651.61,592.91 L651.80,592.21 L652.00,591.45 L652.20,590.67 L652.40,589.86 L652.60,589.03 L652.80,588.18 L653.00,587.29 L653.04,587.12 L653.20,586.36 L653.40,585.40 L653.60,584.41 L653.80,583.38 L654.00,582.32 L654.20,581.22 L654.40,580.08 L654.46,579.71 L654.60,578.90 L654.80,577.67 L655.00,576.40 L655.20,575.07 L655.40,573.69 L655.60,572.26 L655.80,570.76 L655.89,570.06 L656.00,569.20 L656.20,567.57 L656.40,565.86 L656.60,564.06 L656.80,562.17 L657.00,560.17 L657.20,558.06 L657.32,556.77 L657.40,555.81 L657.60,553.42 L657.80,550.87 L658.00,548.12 L658.20,545.16 L658.40,541.95 L658.60,538.45 L658.74,535.76 L658.80,534.61 L659.00,530.35 L659.20,525.61 L659.40,520.29 L659.60,514.29 L659.80,507.54 L660.00,500.16 L660.17,493.95 L660.20,492.86 L660.40,487.75 L660.50,487.00 L660.60,487.74 L660.80,492.82 L661.00,500.09 L661.20,507.45 L661.40,514.18 L661.59,519.98 L661.60,520.15 L661.80,525.45 L662.00,530.16 L662.20,534.39 L662.40,538.22 L662.60,541.70 L662.80,544.89 L663.00,547.83 L663.02,548.11 L663.20,550.55 L663.40,553.09 L663.60,555.46 L663.80,557.68 L664.00,559.78 L664.20,561.75 L664.40,563.62 L664.45,564.04 L664.60,565.41 L664.80,567.11 L665.00,568.73 L665.20,570.28 L665.40,571.76 L665.60,573.17 L665.80,574.53 L665.87,575.01 L666.00,575.82 L666.20,577.06 L666.40,578.24 L666.60,579.38 L666.80,580.48 L667.00,581.54 L667.20,582.56 L667.30,583.05 L667.40,583.55 L667.60,584.52 L667.80,585.45 L668.00,586.36 L668.20,587.24 L668.40,588.09 L668.60,588.91 L668.72,589.41 L668.80,589.70 L669.00,590.45 L669.20,591.18 L669.40,591.89 L669.60,592.58 L669.80,593.25 L670.00,593.89 L670.15,594.37 L670.20,594.55 L670.40,595.27 L670.60,595.97 L670.80,596.65 L671.00,597.32 L671.20,597.97 L671.40,598.61 L671.58,599.16 L671.60,599.21 L671.80,599.58 L672.00,599.94 L672.20,600.28 L672.40,600.61 L672.60,600.94 L672.80,601.24 L673.00,601.54 L673.00,601.55 L673.20,602.04 L673.40,602.52 L673.60,603.00 L673.80,603.46 L674.00,603.92 L674.20,604.36 L674.40,604.80 L674.43,604.86 L674.60,605.17 L674.80,605.51 L675.00,605.85 L675.20,606.19 L675.40,606.51 L675.60,606.83 L675.80,607.13 L675.85,607.22 L677.28,610.65 L678.71,611.47 L680.13,611.85 L681.56,615.98 L682.98,615.13 L684.41,615.58 L685.84,618.08 L687.26,616.83 L688.69,619.02 L690.11,617.49 L691.54,619.82 L692.97,622.52 L694.39,621.55 L695.82,625.59 L697.24,625.46 L698.67,631.54 L700.10,629.88 L701.52,626.85 L702.95,625.52 L704.37,627.34 L705.80,625.45 L707.23,629.94 L708.65,627.01 L710.08,630.55 L711.50,630.70 L712.93,629.16 L714.36,629.69 L715.78,628.08 L717.21,624.41 L718.63,630.76 L720.06,629.36 L721.49,625.68 L722.91,627.97 L724.34,622.94 L725.76,625.69 L727.19,625.79 L728.62,625.29 L730.04,622.95 L731.47,625.76 L732.89,633.27 L734.32,628.56 L735.75,634.62 L737.17,633.69 L738.60,628.72 L740.02,630.88 L741.45,632.16 L742.88,632.32 L744.30,635.86 L745.73,633.91 L747.15,637.74 L748.58,634.57 L750.01,638.00 L751.43,637.01 L752.86,635.77 L754.28,638.40 L755.71,636.42 L757.14,637.44 L758.56,638.16 L759.99,636.21 L761.41,644.12 L762.84,644.58 L764.27,638.15 L765.69,637.68 L767.12,635.02 L768.54,637.85 L769.97,637.68 L771.40,642.32 L772.82,637.85 L774.25,638.02 L775.67,642.80" fill="none" stroke="#0a2bff" stroke-width="3.1" stroke-linejoin="round" stroke-linecap="round"/><path d="M64.30,759.30 L66.30,725.00 L68.90,724.17 L70.33,722.49 L71.75,739.43 L73.18,728.67 L74.60,725.33 L76.03,724.65 L77.46,726.89 L78.88,724.75 L80.31,728.49 L81.73,727.91 L83.16,729.30 L84.59,734.12 L86.01,733.39 L87.44,729.26 L88.86,732.73 L90.29,726.98 L91.72,727.07 L93.14,725.87 L94.57,731.31 L95.99,727.17 L97.42,734.73 L98.85,734.43 L100.27,731.24 L101.70,730.62 L103.12,737.91 L104.55,738.57 L105.98,730.48 L107.40,734.81 L108.83,728.01 L110.25,730.43 L111.68,730.74 L113.11,731.08 L114.53,731.53 L115.96,732.33 L117.38,728.50 L118.81,733.71 L120.24,732.64 L121.66,734.33 L123.09,730.00 L124.51,731.80 L125.94,735.08 L127.37,726.20 L128.79,733.22 L130.22,732.36 L131.64,730.70 L133.07,726.88 L134.50,732.50 L135.92,735.27 L137.35,731.67 L138.77,737.71 L140.20,729.51 L141.63,728.84 L143.05,732.79 L144.48,731.98 L145.90,737.77 L147.33,737.81 L148.76,733.12 L150.18,729.68 L151.61,733.24 L153.03,730.53 L154.46,728.38 L155.89,730.95 L157.31,729.31 L158.74,726.70 L160.16,735.64 L161.59,728.42 L163.02,738.37 L164.44,729.09 L165.87,729.68 L167.29,732.13 L168.72,735.23 L170.15,730.13 L171.57,731.21 L173.00,729.31 L174.42,732.83 L175.85,727.62 L177.28,733.09 L178.70,730.16 L180.13,730.36 L181.55,725.03 L182.98,734.61 L184.41,730.08 L185.83,724.90 L187.26,730.74 L188.68,739.82 L190.11,727.21 L191.54,729.01 L192.96,725.26 L194.39,735.28 L195.81,726.99 L197.24,725.37 L198.67,724.16 L200.09,731.37 L201.52,722.83 L202.94,739.26 L204.37,732.76 L205.80,730.21 L207.22,726.04 L208.65,727.53 L210.07,724.85 L211.50,724.54 L212.93,724.96 L214.35,726.73 L215.78,720.44 L217.20,735.08 L218.63,732.42 L220.06,727.08 L221.48,729.94 L222.91,736.52 L224.33,727.76 L225.76,727.44 L227.19,735.44 L228.61,721.77 L230.04,720.39 L231.46,720.43 L232.89,725.83 L234.32,723.40 L235.74,727.96 L237.17,722.93 L238.59,725.88 L240.02,721.99 L241.45,724.36 L242.87,719.83 L244.30,725.10 L245.72,718.96 L247.15,728.92 L248.58,729.79 L250.00,720.92 L251.43,724.11 L252.85,720.61 L254.28,720.75 L255.71,720.96 L257.13,718.52 L258.56,719.41 L259.98,719.48 L261.41,724.07 L262.84,715.57 L264.26,719.97 L265.69,716.79 L267.11,718.87 L268.54,715.88 L269.97,718.94 L271.39,718.48 L272.82,718.48 L274.24,721.19 L275.67,720.41 L277.10,718.63 L278.52,718.26 L279.95,721.15 L281.37,710.84 L282.80,720.58 L284.23,717.81 L285.65,709.87 L287.08,726.08 L288.50,713.64 L289.93,713.68 L291.36,716.13 L292.78,720.44 L294.21,720.70 L295.63,714.72 L297.06,713.17 L298.49,722.69 L299.91,713.54 L301.34,715.97 L302.76,711.00 L304.19,712.86 L305.62,715.85 L307.04,714.36 L308.47,712.67 L309.89,708.92 L311.32,704.95 L312.75,711.20 L314.17,711.72 L315.60,709.91 L317.02,711.62 L318.45,709.59 L319.88,710.08 L321.30,710.98 L322.73,713.24 L324.15,710.18 L325.58,708.05 L327.01,710.06 L328.43,706.27 L329.86,707.45 L331.28,710.07 L332.71,705.27 L334.14,712.64 L335.56,706.19 L336.99,704.50 L338.41,709.36 L339.84,708.72 L341.27,708.92 L342.69,704.65 L344.12,706.67 L345.54,706.93 L346.97,705.15 L348.40,706.43 L349.82,709.98 L351.25,707.03 L352.67,706.37 L354.10,709.93 L355.53,704.95 L356.95,707.34 L358.38,703.75 L359.80,708.63 L361.23,706.86 L362.66,707.87 L364.08,701.75 L365.51,701.53 L366.93,700.94 L368.36,700.67 L369.79,701.39 L371.21,701.12 L372.64,705.75 L374.06,702.64 L375.49,702.57 L376.92,701.88 L378.34,703.08 L379.77,698.61 L381.19,699.94 L382.62,702.12 L384.05,698.63 L385.47,699.01 L386.90,699.88 L388.32,698.34 L389.75,698.41 L391.18,699.78 L392.60,698.09 L394.03,695.18 L395.45,694.72 L396.88,694.11 L398.31,694.69 L399.73,693.34 L401.16,691.91 L402.58,690.39 L404.01,690.11 L405.44,688.79 L406.86,686.22 L408.29,685.28 L409.71,684.05 L411.14,682.84 L412.57,681.62 L413.99,679.93 L415.42,679.15 L416.84,678.56 L418.27,677.75 L419.70,676.00 L420.00,675.76 L420.70,675.17 L421.12,674.79 L421.40,674.54 L422.10,673.89 L422.55,673.46 L422.80,673.22 L423.50,672.51 L423.97,672.03 L424.20,671.85 L424.40,671.69 L424.90,671.29 L425.40,670.90 L425.60,670.68 L426.30,669.88 L426.83,669.27 L427.00,669.05 L427.70,668.13 L428.25,667.37 L428.40,667.20 L429.10,666.31 L429.68,665.52 L429.80,665.33 L430.00,665.02 L430.50,664.16 L431.10,662.99 L431.20,662.80 L431.90,661.34 L432.53,659.92 L432.60,659.75 L433.30,658.07 L433.96,656.46 L434.00,656.36 L434.70,654.66 L435.00,653.95 L435.38,653.02 L435.40,652.98 L436.10,651.16 L436.80,649.26 L436.81,649.24 L437.50,647.37 L438.20,645.55 L438.23,645.47 L438.90,643.90 L439.40,642.84 L439.60,642.45 L439.66,642.33 L440.30,641.10 L441.00,639.85 L441.09,639.70 L441.70,638.68 L442.40,637.58 L442.51,637.40 L443.10,636.51 L443.80,635.44 L443.94,635.23 L444.50,634.38 L445.20,633.27 L445.36,633.01 L445.90,632.08 L446.10,631.71 L446.60,630.80 L446.79,630.45 L447.30,629.51 L448.00,628.20 L448.22,627.79 L448.70,626.84 L449.40,625.45 L449.64,624.96 L450.10,624.04 L450.80,622.58 L451.07,622.00 L451.50,621.05 L451.70,620.60 L452.20,619.47 L452.49,618.80 L452.90,617.88 L453.60,616.23 L453.92,615.44 L454.30,614.49 L455.00,612.63 L455.35,611.66 L455.70,610.63 L456.10,609.40 L456.40,608.47 L456.77,607.32 L457.10,606.26 L457.80,603.73 L458.20,602.02 L458.50,600.55 L458.90,598.30 L459.20,595.84 L459.62,591.13 L459.90,588.14 L460.00,587.20 L460.60,581.20 L461.05,577.73 L461.30,577.10 L461.30,577.10 L462.00,580.22 L462.48,584.36 L462.70,586.36 L462.80,587.20 L463.40,593.32 L463.90,598.31 L463.90,598.32 L464.10,599.90 L464.80,604.99 L465.33,608.12 L465.50,608.96 L465.60,609.41 L466.20,611.79 L466.75,613.71 L466.90,614.17 L467.60,616.23 L468.18,617.74 L468.30,618.03 L469.00,619.68 L469.40,620.59 L469.61,621.04 L469.70,621.25 L470.40,622.71 L471.03,623.92 L471.10,624.04 L471.80,625.27 L472.46,626.37 L472.50,626.44 L473.20,627.59 L473.88,628.71 L473.90,628.74 L474.60,629.89 L475.30,631.11 L475.31,631.13 L475.60,631.68 L476.00,632.44 L476.70,633.80 L476.74,633.87 L477.40,635.14 L478.10,636.51 L478.16,636.63 L478.80,637.92 L479.50,639.36 L479.59,639.54 L480.20,640.86 L480.90,642.41 L481.01,642.67 L481.10,642.86 L481.60,643.98 L482.30,645.57 L482.44,645.89 L483.00,647.20 L483.70,648.90 L483.87,649.31 L484.40,650.65 L485.10,652.48 L485.29,653.00 L485.60,653.89 L485.80,654.49 L486.50,656.91 L486.72,657.73 L487.20,659.53 L487.90,662.05 L488.14,662.85 L488.60,664.22 L488.90,664.97 L489.30,665.85 L489.57,666.41 L490.00,667.28 L490.70,668.59 L491.00,669.10 L491.40,669.75 L492.10,670.79 L492.42,671.24 L492.80,671.79 L493.50,672.76 L493.85,673.22 L494.20,673.72 L494.40,674.00 L494.90,674.68 L495.27,675.17 L495.60,675.46 L496.30,676.06 L496.70,676.39 L497.00,676.55 L497.70,676.90 L498.13,677.10 L498.40,677.45 L499.10,678.32 L499.55,678.87 L499.80,678.95 L500.50,679.17 L500.98,679.31 L501.20,679.46 L501.90,679.93 L502.20,680.13 L502.40,680.27 L502.60,680.51 L503.30,681.37 L503.83,682.01 L504.00,682.09 L504.70,682.44 L505.26,682.70 L506.68,684.32 L508.11,684.38 L509.53,685.89 L510.96,686.99 L512.39,687.36 L513.81,688.18 L515.24,689.03 L516.66,689.33 L518.09,690.34 L519.52,691.49 L520.94,691.16 L522.37,690.87 L523.79,693.58 L525.22,695.24 L526.65,696.56 L528.07,695.81 L529.50,697.72 L530.92,698.31 L532.35,702.30 L533.78,701.92 L535.20,702.93 L536.63,700.17 L538.05,702.94 L539.48,708.54 L540.91,702.73 L542.33,702.00 L543.76,702.11 L545.18,712.59 L546.61,705.27 L548.04,704.25 L549.46,705.06 L550.89,708.70 L552.31,712.29 L553.74,708.72 L555.17,708.83 L556.59,706.92 L558.02,707.12 L559.44,709.81 L560.87,707.35 L562.30,713.17 L563.72,712.41 L565.15,710.86 L566.57,709.57 L568.00,712.54 L569.43,708.61 L570.85,711.15 L572.28,715.89 L573.70,712.86 L575.13,716.47 L576.56,717.14 L577.98,719.36 L579.41,710.58 L580.83,712.20 L582.26,721.23 L583.69,712.28 L585.11,713.00 L586.54,717.41 L587.96,714.92 L589.39,710.61 L590.82,716.18 L592.24,716.04 L593.67,714.27 L595.09,721.68 L596.52,722.90 L597.95,723.76 L599.37,718.86 L600.80,716.12 L602.22,722.13 L603.65,724.49 L605.08,718.79 L606.50,720.92 L607.93,717.94 L609.35,720.45 L610.78,720.78 L612.21,720.55 L613.63,720.22 L615.06,723.86 L616.48,724.46 L617.91,715.54 L619.34,711.81 L620.76,716.29 L622.19,725.63 L623.61,718.69 L625.04,714.68 L626.47,723.84 L627.89,723.36 L629.32,717.56 L630.74,718.59 L632.17,717.39 L633.60,710.67 L635.02,713.92 L636.45,712.01 L637.87,705.76 L639.30,710.99 L640.73,712.39 L642.15,703.84 L643.58,699.66 L645.00,700.49 L645.00,700.49 L645.20,700.25 L645.40,700.00 L645.60,699.74 L645.80,699.48 L646.00,699.21 L646.20,698.92 L646.40,698.63 L646.43,698.59 L646.60,698.34 L646.80,698.04 L647.00,697.73 L647.20,697.42 L647.40,697.09 L647.60,696.75 L647.80,696.40 L647.86,696.30 L648.00,695.89 L648.20,695.32 L648.40,694.73 L648.60,694.13 L648.80,693.52 L649.00,692.89 L649.20,692.25 L649.28,691.99 L649.40,691.54 L649.60,690.77 L649.80,689.99 L650.00,689.19 L650.20,688.38 L650.40,687.55 L650.60,686.70 L650.71,686.24 L650.80,685.95 L651.00,685.30 L651.20,684.64 L651.40,683.96 L651.60,683.26 L651.80,682.54 L652.00,681.80 L652.13,681.29 L652.20,681.03 L652.40,680.24 L652.60,679.42 L652.80,678.58 L653.00,677.71 L653.20,676.81 L653.40,675.88 L653.56,675.12 L653.60,674.92 L653.80,673.91 L654.00,672.87 L654.20,671.79 L654.40,670.67 L654.60,669.51 L654.80,668.31 L654.99,667.14 L655.00,667.05 L655.20,665.72 L655.40,664.34 L655.60,662.90 L655.80,661.39 L656.00,659.81 L656.20,658.17 L656.40,656.44 L656.41,656.33 L656.60,654.61 L656.80,652.69 L657.00,650.67 L657.20,648.52 L657.40,646.25 L657.60,643.83 L657.80,641.24 L657.84,640.72 L658.00,638.46 L658.20,635.47 L658.40,632.23 L658.60,628.70 L658.80,624.83 L659.00,620.55 L659.20,615.78 L659.26,614.14 L659.40,610.44 L659.60,604.41 L659.80,597.63 L660.00,590.22 L660.20,582.90 L660.40,577.77 L660.50,577.00 L660.60,577.73 L660.69,579.53 L660.80,582.78 L661.00,590.03 L661.20,597.37 L661.40,604.07 L661.60,610.02 L661.80,615.29 L662.00,619.98 L662.12,622.47 L662.20,624.18 L662.40,627.98 L662.60,631.43 L662.80,634.60 L663.00,637.51 L663.20,640.21 L663.40,642.72 L663.54,644.40 L663.60,645.06 L663.80,647.24 L664.00,649.30 L664.20,651.24 L664.40,653.07 L664.60,654.80 L664.80,656.45 L664.97,657.77 L665.00,658.02 L665.20,659.51 L665.40,660.94 L665.60,662.31 L665.80,663.62 L666.00,664.87 L666.20,666.07 L666.39,667.19 L666.40,667.23 L666.60,668.35 L666.80,669.43 L667.00,670.48 L667.20,671.49 L667.40,672.46 L667.60,673.40 L667.80,674.30 L667.82,674.39 L668.00,675.16 L668.20,675.98 L668.40,676.78 L668.60,677.55 L668.80,678.30 L669.00,679.02 L669.20,679.72 L669.25,679.88 L669.40,680.43 L669.60,681.12 L669.80,681.80 L670.00,682.46 L670.20,683.10 L670.40,683.72 L670.60,684.32 L670.67,684.54 L670.80,685.00 L671.00,685.71 L671.20,686.40 L671.40,687.08 L671.60,687.75 L671.80,688.41 L672.00,689.05 L672.10,689.36 L672.20,689.52 L672.40,689.84 L672.60,690.15 L672.80,690.44 L673.00,690.73 L673.20,691.00 L673.40,691.27 L673.52,691.43 L673.60,691.60 L673.80,692.03 L674.00,692.46 L674.20,692.88 L674.40,693.29 L674.60,693.70 L674.80,694.09 L674.95,694.38 L675.00,694.47 L675.20,694.80 L675.40,695.13 L675.60,695.45 L675.80,695.77 L676.38,696.63 L677.80,697.86 L679.23,700.71 L680.65,699.75 L682.08,702.89 L683.51,703.57 L684.93,704.40 L686.36,706.34 L687.78,705.78 L689.21,706.43 L690.64,707.46 L692.06,711.14 L693.49,712.35 L694.91,712.23 L696.34,711.28 L697.77,716.86 L699.19,714.35 L700.62,715.63 L702.04,714.70 L703.47,715.77 L704.90,711.74 L706.32,712.94 L707.75,712.15 L709.17,717.60 L710.60,717.48 L712.03,716.63 L713.45,712.41 L714.88,712.80 L716.30,718.87 L717.73,715.93 L719.16,712.88 L720.58,721.11 L722.01,718.97 L723.43,715.56 L724.86,717.18 L726.29,722.16 L727.71,715.89 L729.14,717.37 L730.56,718.31 L731.99,723.98 L733.42,720.99 L734.84,717.54 L736.27,726.93 L737.69,719.27 L739.12,722.34 L740.55,718.28 L741.97,723.17 L743.40,720.90 L744.82,724.82 L746.25,727.62 L747.68,721.91 L749.10,729.83 L750.53,728.47 L751.95,726.05 L753.38,730.66 L754.81,732.07 L756.23,726.74 L757.66,727.60 L759.08,727.16 L760.51,725.10 L761.94,721.15 L763.36,727.62 L764.79,720.86 L766.21,725.94 L767.64,726.94 L769.07,736.03 L770.49,731.58 L771.92,726.36 L773.34,725.76 L774.77,729.77 L776.20,726.74" fill="none" stroke="#0a2bff" stroke-width="3.1" stroke-linejoin="round" stroke-linecap="round"/><path d="M64.10,818.66 L65.53,817.40 L66.95,819.67 L68.38,822.50 L69.80,820.32 L71.23,822.87 L72.66,817.95 L74.08,813.30 L75.51,820.19 L76.93,820.72 L78.36,815.99 L79.79,816.42 L81.21,817.34 L82.64,821.97 L84.06,817.75 L85.49,814.91 L86.92,824.05 L88.34,819.42 L89.77,827.50 L91.19,823.55 L92.62,826.97 L94.05,818.20 L95.47,823.26 L96.90,816.02 L98.32,816.42 L99.75,817.79 L101.18,832.03 L102.60,819.28 L104.03,817.08 L105.45,816.38 L106.88,824.47 L108.31,818.84 L109.73,821.26 L111.16,820.36 L112.58,812.76 L114.01,820.30 L115.44,816.75 L116.86,813.27 L118.29,819.12 L119.71,816.99 L121.14,816.05 L122.57,816.21 L123.99,822.31 L125.42,816.10 L126.84,811.50 L128.27,824.12 L129.70,815.32 L131.12,815.79 L132.55,819.08 L133.97,809.39 L135.40,814.07 L136.83,821.83 L138.25,815.76 L139.68,813.78 L141.10,816.75 L142.53,813.28 L143.96,816.10 L145.38,813.20 L146.81,810.55 L148.23,818.60 L149.66,814.70 L151.09,817.43 L152.51,814.81 L153.94,820.88 L155.36,817.67 L156.79,815.84 L158.22,811.54 L159.64,810.60 L161.07,821.10 L162.49,818.15 L163.92,811.96 L165.35,825.08 L166.77,816.20 L168.20,816.64 L169.62,809.39 L171.05,811.18 L172.48,815.08 L173.90,815.13 L175.33,814.48 L176.75,807.91 L178.18,815.01 L179.61,814.32 L181.03,811.51 L182.46,813.24 L183.88,813.38 L185.31,818.13 L186.74,812.20 L188.16,813.85 L189.59,807.49 L191.01,809.04 L192.44,811.44 L193.87,808.63 L195.29,812.47 L196.72,807.06 L198.14,810.86 L199.57,808.56 L201.00,816.98 L202.42,809.45 L203.85,819.41 L205.27,821.82 L206.70,812.17 L208.13,815.00 L209.55,810.28 L210.98,812.45 L212.40,814.73 L213.83,813.73 L215.26,810.18 L216.68,809.01 L218.11,821.00 L219.53,811.30 L220.96,807.42 L222.39,807.65 L223.81,813.89 L225.24,808.98 L226.66,807.99 L228.09,812.34 L229.52,806.07 L230.94,810.26 L232.37,802.66 L233.79,804.56 L235.22,804.25 L236.65,806.20 L238.07,803.58 L239.50,811.41 L240.92,806.21 L242.35,799.97 L243.78,809.49 L245.20,797.42 L246.63,805.86 L248.05,796.47 L249.48,800.46 L250.91,794.82 L252.33,795.27 L253.76,798.10 L255.18,790.29 L256.61,788.29 L258.04,789.61 L259.46,791.01 L260.89,789.81 L262.31,791.26 L263.74,788.01 L265.17,790.73 L266.59,790.30 L268.02,792.28 L269.44,792.44 L270.87,793.74 L272.30,788.82 L273.72,790.90 L275.15,788.91 L276.57,791.67 L278.00,795.48 L279.43,796.52 L280.85,797.76 L282.28,796.48 L283.70,797.76 L285.13,797.70 L286.56,801.28 L287.98,799.57 L289.41,793.20 L290.83,799.76 L292.26,801.67 L293.69,797.87 L295.11,795.55 L296.54,805.69 L297.96,801.40 L299.39,803.24 L300.82,808.17 L302.24,798.59 L303.67,800.88 L305.09,807.72 L306.52,803.12 L307.95,798.80 L309.37,801.84 L310.80,800.22 L312.22,803.29 L313.65,803.20 L315.08,794.87 L316.50,799.57 L317.93,796.69 L319.35,797.11 L320.78,797.76 L322.21,797.33 L323.63,793.83 L325.06,795.46 L326.48,794.53 L327.91,793.71 L329.34,791.11 L330.76,792.09 L332.19,792.82 L333.61,795.17 L335.04,797.57 L336.47,792.27 L337.89,792.41 L339.32,795.02 L340.74,793.44 L342.17,792.87 L343.60,792.67 L345.02,792.35 L346.45,795.27 L347.87,790.81 L349.30,796.67 L350.73,791.58 L352.15,792.00 L353.58,790.92 L355.00,788.82 L356.43,789.13 L357.86,793.56 L359.28,794.10 L360.71,788.98 L362.13,791.53 L363.56,789.27 L364.99,787.49 L366.41,790.62 L367.84,790.65 L369.26,786.66 L370.69,786.35 L372.12,786.11 L373.54,785.20 L374.97,785.59 L376.39,785.67 L377.82,783.69 L379.25,783.88 L380.67,783.92 L382.10,781.47 L383.52,781.35 L384.95,780.40 L386.38,780.77 L387.80,779.86 L389.23,779.39 L390.65,778.61 L392.08,777.27 L393.51,777.08 L394.93,775.77 L396.36,775.05 L397.78,773.60 L399.21,774.30 L400.64,773.03 L402.06,772.22 L403.49,771.40 L404.91,771.05 L406.34,769.88 L407.77,768.66 L409.19,767.99 L410.62,767.01 L412.04,766.11 L413.47,764.75 L414.90,763.89 L416.32,763.15 L417.75,761.68 L419.17,760.70 L420.00,760.13 L420.60,759.72 L420.70,759.61 L421.40,758.83 L422.03,758.11 L422.10,758.04 L422.80,757.31 L423.45,756.58 L423.50,756.53 L424.20,755.79 L424.40,755.57 L424.88,754.99 L424.90,754.96 L425.60,754.02 L426.30,752.95 L426.30,752.94 L427.00,751.68 L427.70,750.29 L427.73,750.22 L427.80,750.07 L428.40,748.60 L429.10,746.58 L429.16,746.41 L429.80,744.46 L430.50,742.31 L430.58,742.06 L431.20,740.23 L431.70,738.90 L431.90,738.40 L432.01,738.13 L432.60,736.71 L433.30,735.10 L433.43,734.80 L434.00,733.54 L434.70,732.03 L434.86,731.68 L435.40,730.53 L436.10,729.05 L436.29,728.65 L436.70,727.78 L436.80,727.57 L437.50,726.12 L437.71,725.69 L438.20,724.71 L438.90,723.33 L439.14,722.86 L439.60,721.96 L440.30,720.59 L440.56,720.07 L441.00,719.19 L441.70,717.74 L441.99,717.13 L442.20,716.69 L442.40,716.28 L443.10,714.83 L443.42,714.19 L443.80,713.39 L444.50,711.92 L444.84,711.19 L445.20,710.42 L445.90,708.85 L446.27,707.99 L446.60,707.17 L447.20,705.61 L447.30,705.34 L447.69,704.24 L448.00,703.36 L448.70,701.22 L449.12,699.85 L449.40,698.90 L450.10,696.37 L450.55,694.63 L450.60,694.41 L450.80,693.58 L451.50,690.35 L451.97,687.93 L452.20,686.70 L452.80,683.29 L452.90,682.69 L453.40,679.43 L453.60,678.01 L454.30,672.92 L454.40,672.20 L454.82,668.43 L455.00,666.66 L455.70,661.28 L455.90,660.90 L456.25,662.27 L456.40,663.52 L457.10,671.21 L457.20,672.20 L457.68,677.13 L457.80,678.47 L458.30,683.31 L458.50,684.89 L459.10,689.28 L459.20,689.92 L459.90,693.93 L460.00,694.41 L460.53,696.71 L460.60,697.00 L461.30,699.66 L461.95,701.83 L462.00,701.97 L462.70,704.01 L463.30,705.61 L463.38,705.81 L463.40,705.87 L464.10,707.56 L464.80,709.10 L464.81,709.12 L465.50,710.53 L466.20,711.87 L466.23,711.93 L466.90,713.15 L467.60,714.39 L467.66,714.49 L468.30,715.62 L468.90,716.68 L469.00,716.86 L469.08,717.01 L469.70,718.07 L470.40,719.22 L470.51,719.39 L471.10,720.31 L471.80,721.38 L471.94,721.59 L472.50,722.44 L473.20,723.51 L473.36,723.76 L473.90,724.66 L474.60,725.90 L474.79,726.25 L475.30,727.22 L475.60,727.81 L476.00,728.65 L476.21,729.12 L476.70,730.27 L477.40,732.02 L477.64,732.64 L478.10,733.80 L478.80,735.62 L479.07,736.31 L479.50,737.49 L480.00,738.85 L480.20,739.39 L480.49,740.20 L480.90,741.37 L481.60,743.41 L481.92,744.35 L482.30,745.48 L483.00,747.50 L483.34,748.47 L483.70,749.44 L483.90,749.97 L484.40,751.30 L484.77,752.31 L485.10,753.20 L485.80,755.01 L486.20,755.93 L486.50,756.59 L487.20,757.82 L487.20,757.82 L487.62,758.39 L487.90,758.73 L488.60,759.51 L489.05,759.97 L489.30,760.20 L490.00,760.80 L490.47,761.18 L490.70,761.31 L491.40,761.72 L491.90,761.99 L492.10,762.16 L492.80,762.76 L493.30,763.19 L493.33,763.21 L493.50,763.36 L494.20,763.93 L494.75,764.36 L494.90,764.47 L495.60,764.98 L496.18,765.39 L496.30,765.47 L497.00,765.92 L497.60,766.31 L497.70,766.34 L498.40,766.52 L499.03,766.71 L499.10,766.77 L499.80,767.40 L500.00,767.58 L500.46,768.02 L500.50,768.06 L501.20,768.71 L501.88,769.39 L501.90,769.41 L502.60,770.14 L503.30,770.90 L503.31,770.90 L504.00,771.74 L504.70,772.57 L504.73,772.62 L506.16,773.58 L507.59,774.35 L509.01,775.85 L510.44,776.50 L511.86,777.13 L513.29,777.50 L514.72,779.04 L516.14,778.71 L517.57,779.62 L518.99,779.00 L520.42,780.74 L521.85,780.40 L523.27,780.34 L524.70,782.50 L526.12,783.52 L527.55,783.53 L528.98,784.47 L530.40,786.34 L531.83,785.41 L533.25,785.85 L534.68,787.65 L536.11,788.21 L537.53,790.08 L538.96,788.50 L540.38,791.49 L541.81,791.68 L543.24,788.09 L544.66,792.06 L546.09,788.91 L547.51,788.43 L548.94,790.78 L550.37,790.49 L551.79,788.34 L553.22,792.37 L554.64,793.45 L556.07,795.46 L557.50,792.68 L558.92,790.17 L560.35,791.41 L561.77,795.94 L563.20,796.14 L564.63,795.66 L566.05,794.13 L567.48,795.72 L568.90,798.23 L570.33,795.84 L571.76,797.21 L573.18,796.91 L574.61,796.63 L576.03,797.85 L577.46,796.58 L578.89,793.82 L580.31,797.06 L581.74,799.00 L583.16,805.87 L584.59,798.71 L586.02,810.67 L587.44,806.11 L588.87,798.36 L590.29,799.14 L591.72,802.33 L593.15,809.48 L594.57,803.93 L596.00,808.16 L597.42,801.11 L598.85,801.57 L600.28,803.29 L601.70,807.73 L603.13,810.16 L604.55,805.82 L605.98,806.87 L607.41,811.90 L608.83,806.75 L610.26,812.87 L611.68,803.93 L613.11,804.24 L614.54,804.15 L615.96,809.80 L617.39,805.37 L618.81,807.13 L620.24,807.32 L621.67,806.16 L623.09,809.48 L624.52,809.14 L625.94,799.54 L627.37,809.45 L628.80,799.66 L630.22,796.48 L631.65,804.51 L633.07,799.77 L634.50,795.91 L635.93,794.37 L637.35,795.06 L638.78,790.88 L640.20,795.09 L641.63,792.10 L643.06,789.60 L644.48,785.27 L645.00,784.65 L645.20,784.39 L645.40,784.13 L645.60,783.87 L645.80,783.59 L645.91,783.44 L646.00,783.41 L646.20,783.33 L646.40,783.24 L646.60,783.15 L646.80,783.04 L647.00,782.93 L647.20,782.81 L647.33,782.72 L647.40,782.48 L647.60,781.73 L647.80,780.98 L648.00,780.22 L648.20,779.45 L648.40,778.67 L648.60,777.87 L648.76,777.23 L648.80,777.15 L649.00,776.73 L649.20,776.29 L649.40,775.84 L649.60,775.38 L649.80,774.91 L650.00,774.42 L650.19,773.95 L650.20,773.91 L650.40,773.34 L650.60,772.74 L650.80,772.13 L651.00,771.50 L651.20,770.86 L651.40,770.19 L651.60,769.50 L651.61,769.46 L651.80,768.81 L652.00,768.10 L652.20,767.37 L652.40,766.61 L652.60,765.83 L652.80,765.03 L653.00,764.19 L653.04,764.03 L653.20,763.30 L653.40,762.37 L653.60,761.40 L653.80,760.41 L654.00,759.37 L654.20,758.31 L654.40,757.20 L654.46,756.83 L654.60,756.05 L654.80,754.87 L655.00,753.64 L655.20,752.35 L655.40,751.01 L655.60,749.62 L655.80,748.15 L655.89,747.47 L656.00,746.61 L656.20,744.97 L656.40,743.26 L656.60,741.45 L656.80,739.55 L657.00,737.54 L657.20,735.42 L657.32,734.12 L657.40,733.17 L657.60,730.80 L657.80,728.27 L658.00,725.54 L658.20,722.60 L658.40,719.41 L658.60,715.92 L658.74,713.24 L658.80,712.09 L659.00,707.84 L659.20,703.11 L659.40,697.79 L659.60,691.79 L659.80,685.04 L660.00,677.65 L660.17,671.45 L660.20,670.35 L660.40,665.25 L660.50,664.50 L660.60,665.24 L660.80,670.31 L661.00,677.58 L661.20,684.94 L661.40,691.66 L661.59,697.46 L661.60,697.63 L661.80,702.92 L662.00,707.62 L662.20,711.84 L662.40,715.65 L662.60,719.11 L662.80,722.29 L663.00,725.21 L663.02,725.49 L663.20,727.93 L663.40,730.46 L663.60,732.83 L663.80,735.05 L664.00,737.13 L664.20,739.10 L664.40,740.96 L664.45,741.37 L664.60,742.70 L664.80,744.36 L665.00,745.93 L665.20,747.43 L665.40,748.86 L665.60,750.22 L665.80,751.53 L665.87,751.98 L666.00,752.76 L666.20,753.94 L666.40,755.08 L666.60,756.16 L666.80,757.21 L667.00,758.21 L667.20,759.18 L667.30,759.64 L667.40,760.16 L667.60,761.14 L667.80,762.09 L668.00,763.02 L668.20,763.91 L668.40,764.77 L668.60,765.61 L668.72,766.12 L668.80,766.37 L669.00,767.01 L669.20,767.63 L669.40,768.22 L669.60,768.80 L669.80,769.35 L670.00,769.89 L670.15,770.28 L670.20,770.43 L670.40,771.05 L670.60,771.64 L670.80,772.23 L671.00,772.79 L671.20,773.34 L671.40,773.88 L671.58,774.33 L671.60,774.41 L671.80,774.99 L672.00,775.56 L672.20,776.12 L672.40,776.67 L672.60,777.20 L672.80,777.72 L673.00,778.23 L673.00,778.24 L673.20,778.59 L673.40,778.94 L673.60,779.28 L673.80,779.61 L674.00,779.93 L674.20,780.24 L674.40,780.54 L674.43,780.58 L674.60,780.86 L674.80,781.19 L675.00,781.50 L675.20,781.81 L675.40,782.11 L675.60,782.40 L675.80,782.68 L675.85,782.75 L677.28,784.17 L678.71,786.20 L680.13,787.64 L681.56,788.10 L682.98,789.62 L684.41,790.14 L685.84,788.63 L687.26,787.72 L688.69,791.69 L690.11,792.21 L691.54,796.93 L692.97,800.86 L694.39,797.96 L695.82,801.18 L697.24,796.58 L698.67,802.63 L700.10,799.71 L701.52,801.59 L702.95,803.37 L704.37,799.84 L705.80,802.01 L707.23,800.07 L708.65,801.73 L710.08,807.11 L711.50,801.40 L712.93,800.70 L714.36,798.22 L715.78,803.06 L717.21,800.62 L718.63,805.96 L720.06,799.21 L721.49,804.38 L722.91,807.28 L724.34,801.99 L725.76,799.28 L727.19,807.48 L728.62,806.29 L730.04,805.53 L731.47,807.31 L732.89,802.97 L734.32,807.14 L735.75,807.32 L737.17,803.71 L738.60,808.34 L740.02,804.90 L741.45,809.84 L742.88,811.05 L744.30,814.05 L745.73,802.49 L747.15,809.82 L748.58,809.53 L750.01,812.14 L751.43,813.19 L752.86,814.91 L754.28,810.47 L755.71,819.69 L757.14,821.33 L758.56,818.12 L759.99,818.59 L761.41,810.75 L762.84,810.50 L764.27,816.49 L765.69,818.29 L767.12,814.31 L768.54,809.09 L769.97,826.04 L771.40,811.74 L772.82,817.47 L774.25,810.63 L775.67,817.95" fill="none" stroke="#000000" stroke-width="3.1" stroke-linejoin="round" stroke-linecap="round"/><path d="M64.10,916.99 L65.53,914.47 L66.95,914.58 L68.38,909.41 L69.80,921.16 L71.23,908.64 L72.66,912.23 L74.08,904.43 L75.51,904.18 L76.93,902.72 L78.36,905.18 L79.79,907.86 L81.21,904.36 L82.64,902.22 L84.06,910.42 L85.49,905.12 L86.92,907.61 L88.34,902.25 L89.77,911.14 L91.19,914.54 L92.62,905.82 L94.05,906.17 L95.47,915.51 L96.90,905.68 L98.32,907.55 L99.75,908.02 L101.18,907.61 L102.60,906.02 L104.03,916.37 L105.45,901.30 L106.88,910.65 L108.31,919.35 L109.73,906.94 L111.16,901.33 L112.58,908.72 L114.01,900.90 L115.44,900.81 L116.86,910.17 L118.29,945.00 L119.71,912.01 L121.14,901.68 L122.57,909.63 L123.99,913.40 L125.42,912.29 L126.84,905.70 L128.27,905.73 L129.70,902.27 L131.12,901.79 L132.55,909.67 L133.97,905.97 L135.40,910.59 L136.83,904.87 L138.25,910.54 L139.68,910.74 L141.10,897.79 L142.53,904.74 L143.96,902.33 L145.38,896.45 L146.81,901.69 L148.23,905.08 L149.66,904.31 L151.09,907.81 L152.51,900.37 L153.94,905.74 L155.36,898.15 L156.79,905.67 L158.22,905.65 L159.64,905.87 L161.07,901.59 L162.49,903.18 L163.92,898.94 L165.35,906.21 L166.77,902.56 L168.20,905.28 L169.62,904.59 L171.05,901.43 L172.48,897.88 L173.90,901.20 L175.33,906.07 L176.75,914.46 L178.18,895.22 L179.61,901.34 L181.03,898.37 L182.46,904.91 L183.88,896.49 L185.31,900.65 L186.74,902.38 L188.16,906.61 L189.59,900.94 L191.01,904.41 L192.44,903.14 L193.87,910.33 L195.29,904.13 L196.72,901.26 L198.14,907.79 L199.57,901.40 L201.00,899.06 L202.42,902.79 L203.85,904.11 L205.27,903.99 L206.70,897.65 L208.13,908.68 L209.55,902.19 L210.98,902.60 L212.40,900.10 L213.83,900.84 L215.26,905.60 L216.68,893.42 L218.11,899.46 L219.53,906.51 L220.96,903.94 L222.39,899.38 L223.81,897.29 L225.24,905.93 L226.66,896.65 L228.09,905.79 L229.52,902.55 L230.94,895.69 L232.37,892.84 L233.79,898.87 L235.22,899.65 L236.65,893.67 L238.07,902.90 L239.50,896.74 L240.92,896.73 L242.35,893.80 L243.78,896.11 L245.20,898.17 L246.63,894.59 L248.05,910.49 L249.48,893.52 L250.91,899.16 L252.33,900.08 L253.76,897.40 L255.18,895.52 L256.61,892.91 L258.04,896.13 L259.46,892.43 L260.89,891.44 L262.31,895.06 L263.74,898.63 L265.17,891.00 L266.59,892.96 L268.02,904.13 L269.44,897.63 L270.87,892.73 L272.30,898.93 L273.72,895.45 L275.15,900.12 L276.57,890.85 L278.00,891.14 L279.43,891.11 L280.85,886.95 L282.28,892.48 L283.70,891.97 L285.13,884.78 L286.56,895.46 L287.98,887.85 L289.41,894.88 L290.83,888.87 L292.26,883.51 L293.69,888.26 L295.11,891.48 L296.54,882.31 L297.96,890.12 L299.39,888.75 L300.82,886.96 L302.24,892.13 L303.67,884.36 L305.09,882.95 L306.52,884.86 L307.95,885.78 L309.37,892.00 L310.80,883.95 L312.22,897.51 L313.65,886.14 L315.08,890.44 L316.50,891.44 L317.93,884.08 L319.35,885.25 L320.78,884.78 L322.21,884.22 L323.63,882.90 L325.06,882.95 L326.48,886.38 L327.91,885.02 L329.34,883.71 L330.76,882.96 L332.19,884.13 L333.61,880.57 L335.04,879.72 L336.47,879.11 L337.89,878.24 L339.32,878.71 L340.74,892.00 L342.17,882.04 L343.60,881.28 L345.02,883.17 L346.45,880.13 L347.87,881.68 L349.30,876.71 L350.73,879.61 L352.15,877.10 L353.58,880.46 L355.00,879.81 L356.43,879.39 L357.86,877.57 L359.28,879.46 L360.71,875.73 L362.13,874.19 L363.56,877.05 L364.99,875.58 L366.41,873.13 L367.84,874.01 L369.26,873.76 L370.69,873.81 L372.12,872.16 L373.54,872.39 L374.97,873.27 L376.39,874.06 L377.82,873.76 L379.25,870.42 L380.67,870.69 L382.10,868.97 L383.52,869.16 L384.95,869.89 L386.38,868.30 L387.80,867.22 L389.23,867.94 L390.65,867.14 L392.08,865.37 L393.51,866.65 L394.93,865.71 L396.36,864.12 L397.78,863.96 L399.21,863.99 L400.64,863.57 L402.06,862.30 L403.49,861.56 L404.91,861.26 L406.34,860.92 L407.77,860.00 L409.19,859.73 L410.62,859.25 L412.04,857.17 L413.47,856.47 L414.90,854.58 L416.32,853.13 L417.75,851.76 L419.17,851.23 L420.00,850.68 L420.60,850.28 L420.70,850.23 L421.40,849.90 L422.03,849.57 L422.10,849.50 L422.80,848.81 L423.30,848.28 L423.45,848.12 L423.50,848.07 L424.20,847.41 L424.88,846.71 L424.90,846.68 L425.60,845.90 L426.30,845.06 L426.30,845.06 L427.00,844.27 L427.70,843.44 L427.73,843.41 L428.40,842.44 L428.90,841.70 L429.10,841.39 L429.16,841.31 L429.80,840.38 L430.50,839.31 L430.58,839.18 L431.20,838.10 L431.90,836.80 L432.01,836.59 L432.60,835.42 L432.80,835.02 L433.30,833.93 L433.43,833.62 L434.00,832.22 L434.70,830.37 L434.86,829.94 L435.40,828.52 L436.10,826.68 L436.29,826.20 L436.80,824.88 L437.20,823.90 L437.50,823.19 L437.71,822.69 L438.20,821.57 L438.90,819.99 L439.14,819.46 L439.60,818.42 L440.30,816.88 L440.56,816.30 L441.00,815.36 L441.70,813.87 L441.99,813.25 L442.20,812.81 L442.40,812.39 L443.10,810.96 L443.42,810.33 L443.80,809.58 L444.50,808.23 L444.84,807.58 L445.20,806.89 L445.90,805.53 L446.27,804.81 L446.60,804.15 L447.30,802.73 L447.69,801.91 L447.80,801.69 L448.00,801.27 L448.70,799.82 L449.12,798.94 L449.40,798.35 L450.10,796.84 L450.55,795.87 L450.80,795.31 L451.50,793.73 L451.97,792.63 L452.20,792.08 L452.80,790.61 L452.90,790.36 L453.40,789.12 L453.60,788.61 L454.30,786.81 L454.82,785.40 L455.00,784.91 L455.70,782.82 L456.25,781.01 L456.40,780.48 L456.70,779.39 L457.10,777.87 L457.68,775.48 L457.80,774.90 L458.50,771.07 L458.90,768.29 L459.10,766.27 L459.20,765.03 L459.80,757.19 L459.90,756.23 L460.53,750.22 L460.60,749.66 L461.10,747.60 L461.30,748.16 L461.95,754.58 L462.00,755.11 L462.20,757.20 L462.70,762.54 L463.30,768.29 L463.38,768.82 L463.40,768.95 L464.10,772.90 L464.80,776.03 L464.81,776.05 L465.50,778.96 L465.60,779.40 L466.20,782.16 L466.23,782.31 L466.90,785.39 L467.60,788.31 L467.66,788.53 L468.30,790.59 L468.30,790.59 L469.00,792.32 L469.08,792.51 L469.70,793.84 L470.40,795.19 L470.51,795.39 L471.10,796.39 L471.80,797.51 L471.94,797.72 L472.50,798.58 L473.20,799.66 L473.36,799.92 L473.90,800.81 L474.40,801.69 L474.60,802.06 L474.79,802.39 L475.30,803.28 L476.00,804.48 L476.21,804.84 L476.70,805.64 L477.40,806.81 L477.64,807.22 L478.10,808.02 L478.80,809.29 L479.07,809.78 L479.50,810.60 L480.20,811.99 L480.49,812.59 L480.60,812.82 L480.90,813.45 L481.60,815.00 L481.92,815.73 L482.30,816.67 L483.00,818.47 L483.34,819.38 L483.70,820.30 L484.40,822.17 L484.77,823.19 L485.00,823.85 L485.10,824.15 L485.80,826.44 L486.20,827.85 L486.50,828.97 L487.20,831.56 L487.62,833.04 L487.90,833.90 L488.30,835.04 L488.60,835.83 L489.05,837.00 L489.30,837.67 L490.00,839.47 L490.47,840.60 L490.70,841.12 L491.40,842.60 L491.90,843.51 L492.10,843.79 L492.20,843.93 L492.80,844.67 L493.33,845.28 L493.50,845.54 L494.20,846.53 L494.75,847.27 L494.90,847.42 L495.60,848.08 L496.18,848.59 L496.30,848.69 L497.00,849.24 L497.60,849.69 L497.70,849.75 L498.40,850.18 L498.90,850.49 L499.03,850.56 L499.10,850.63 L499.80,851.30 L500.46,851.88 L500.50,851.91 L501.20,852.28 L501.88,852.63 L501.90,852.64 L502.60,852.97 L503.30,853.32 L503.31,853.32 L504.00,853.85 L504.40,854.18 L504.70,854.45 L504.73,854.48 L506.16,855.60 L507.59,857.25 L509.01,858.20 L510.44,858.78 L511.86,859.82 L513.29,860.40 L514.72,860.98 L516.14,861.46 L517.57,862.27 L518.99,862.72 L520.42,862.87 L521.85,864.03 L523.27,862.98 L524.70,865.68 L526.12,865.90 L527.55,867.91 L528.98,868.10 L530.40,869.20 L531.83,869.77 L533.25,869.57 L534.68,871.55 L536.11,873.32 L537.53,872.81 L538.96,874.60 L540.38,874.30 L541.81,873.01 L543.24,874.13 L544.66,874.41 L546.09,875.47 L547.51,876.59 L548.94,879.21 L550.37,878.06 L551.79,878.57 L553.22,877.16 L554.64,877.05 L556.07,878.16 L557.50,880.66 L558.92,876.76 L560.35,878.61 L561.77,880.89 L563.20,880.52 L564.63,880.08 L566.05,881.47 L567.48,882.28 L568.90,882.00 L570.33,882.82 L571.76,882.76 L573.18,887.75 L574.61,888.22 L576.03,880.49 L577.46,888.91 L578.89,883.81 L580.31,884.54 L581.74,885.10 L583.16,888.00 L584.59,883.71 L586.02,885.68 L587.44,887.96 L588.87,891.90 L590.29,888.24 L591.72,889.72 L593.15,892.41 L594.57,887.21 L596.00,886.87 L597.42,886.38 L598.85,888.69 L600.28,890.10 L601.70,886.11 L603.13,887.37 L604.55,883.56 L605.98,888.47 L607.41,894.02 L608.83,887.68 L610.26,884.22 L611.68,890.15 L613.11,891.82 L614.54,893.42 L615.96,885.45 L617.39,891.68 L618.81,891.66 L620.24,889.44 L621.67,895.41 L623.09,890.18 L624.52,892.96 L625.94,888.08 L627.37,885.38 L628.80,883.49 L630.22,886.05 L631.65,882.16 L633.07,884.48 L634.50,885.71 L635.93,879.73 L637.35,879.85 L638.78,877.93 L640.20,880.38 L641.63,874.61 L643.06,872.66 L644.48,870.47 L645.00,869.42 L645.20,869.00 L645.40,868.58 L645.60,868.14 L645.80,867.70 L645.91,867.46 L646.00,867.34 L646.20,867.06 L646.40,866.77 L646.60,866.48 L646.80,866.18 L647.00,865.86 L647.20,865.54 L647.33,865.32 L647.40,865.13 L647.60,864.54 L647.80,863.94 L648.00,863.33 L648.20,862.71 L648.40,862.07 L648.60,861.43 L648.76,860.91 L648.80,860.82 L649.00,860.37 L649.20,859.90 L649.40,859.43 L649.60,858.94 L649.80,858.44 L650.00,857.92 L650.19,857.42 L650.20,857.38 L650.40,856.76 L650.60,856.13 L650.80,855.48 L651.00,854.82 L651.20,854.13 L651.40,853.43 L651.60,852.70 L651.61,852.66 L651.80,852.01 L652.00,851.29 L652.20,850.55 L652.40,849.79 L652.60,849.00 L652.80,848.19 L653.00,847.35 L653.04,847.19 L653.20,846.42 L653.40,845.44 L653.60,844.43 L653.80,843.39 L654.00,842.31 L654.20,841.20 L654.40,840.04 L654.46,839.67 L654.60,838.84 L654.80,837.59 L655.00,836.30 L655.20,834.95 L655.40,833.55 L655.60,832.09 L655.80,830.57 L655.89,829.87 L656.00,829.01 L656.20,827.39 L656.40,825.69 L656.60,823.91 L656.80,822.02 L657.00,820.04 L657.20,817.93 L657.32,816.65 L657.40,815.69 L657.60,813.30 L657.80,810.75 L658.00,808.01 L658.20,805.05 L658.40,801.84 L658.60,798.34 L658.74,795.65 L658.80,794.50 L659.00,790.26 L659.20,785.53 L659.40,780.22 L659.60,774.23 L659.80,767.50 L660.00,760.12 L660.17,753.93 L660.20,752.84 L660.40,747.75 L660.50,747.00 L660.60,747.75 L660.80,752.84 L661.00,760.13 L661.20,767.51 L661.40,774.25 L661.59,780.07 L661.60,780.24 L661.80,785.55 L662.00,790.28 L662.20,794.52 L662.40,798.36 L662.60,801.86 L662.80,805.07 L663.00,808.03 L663.02,808.31 L663.20,810.78 L663.40,813.34 L663.60,815.74 L663.80,817.99 L664.00,820.11 L664.20,822.12 L664.40,824.02 L664.45,824.44 L664.60,825.80 L664.80,827.49 L665.00,829.11 L665.20,830.65 L665.40,832.12 L665.60,833.53 L665.80,834.88 L665.87,835.35 L666.00,836.21 L666.20,837.50 L666.40,838.74 L666.60,839.95 L666.80,841.11 L667.00,842.23 L667.20,843.31 L667.30,843.83 L667.40,844.34 L667.60,845.31 L667.80,846.24 L668.00,847.15 L668.20,848.03 L668.40,848.88 L668.60,849.71 L668.72,850.21 L668.80,850.52 L669.00,851.34 L669.20,852.13 L669.40,852.90 L669.60,853.65 L669.80,854.38 L670.00,855.09 L670.15,855.62 L670.20,855.78 L670.40,856.42 L670.60,857.04 L670.80,857.64 L671.00,858.23 L671.20,858.81 L671.40,859.37 L671.58,859.85 L671.60,859.91 L671.80,860.41 L672.00,860.90 L672.20,861.37 L672.40,861.84 L672.60,862.29 L672.80,862.72 L673.00,863.15 L673.00,863.16 L673.20,863.79 L673.40,864.42 L673.60,865.04 L673.80,865.66 L674.00,866.26 L674.20,866.85 L674.40,867.44 L674.43,867.52 L674.60,867.75 L674.80,868.02 L675.00,868.27 L675.20,868.52 L675.40,868.76 L675.60,868.99 L675.80,869.22 L675.85,869.28 L677.28,871.86 L678.71,873.16 L680.13,875.89 L681.56,878.03 L682.98,877.89 L684.41,877.05 L685.84,877.51 L687.26,878.39 L688.69,878.85 L690.11,883.33 L691.54,883.54 L692.97,884.89 L694.39,887.26 L695.82,889.64 L697.24,895.77 L698.67,890.30 L700.10,887.55 L701.52,895.27 L702.95,896.55 L704.37,891.34 L705.80,894.07 L707.23,897.84 L708.65,891.11 L710.08,896.28 L711.50,899.72 L712.93,898.23 L714.36,899.59 L715.78,896.41 L717.21,900.20 L718.63,890.70 L720.06,896.30 L721.49,898.28 L722.91,900.25 L724.34,897.00 L725.76,895.04 L727.19,897.35 L728.62,902.28 L730.04,901.49 L731.47,905.14 L732.89,894.94 L734.32,897.28 L735.75,899.00 L737.17,899.03 L738.60,902.12 L740.02,900.90 L741.45,897.76 L742.88,900.93 L744.30,899.14 L745.73,900.40 L747.15,900.51 L748.58,900.38 L750.01,898.45 L751.43,902.63 L752.86,899.74 L754.28,904.67 L755.71,911.22 L757.14,904.66 L758.56,899.78 L759.99,903.48 L761.41,899.06 L762.84,906.40 L764.27,901.78 L765.69,907.31 L767.12,901.44 L768.54,905.96 L769.97,902.40 L771.40,906.41 L772.82,906.94 L774.25,903.80 L775.67,911.37" fill="none" stroke="#000000" stroke-width="3.1" stroke-linejoin="round" stroke-linecap="round"/><path d="M64.10,999.75 L65.53,990.60 L66.95,1000.43 L68.38,989.83 L69.80,988.52 L71.23,995.03 L72.66,991.73 L74.08,992.75 L75.51,995.77 L76.93,998.31 L78.36,1005.74 L79.79,989.90 L81.21,995.41 L82.64,987.22 L84.06,992.57 L85.49,994.80 L86.92,999.02 L88.34,1000.29 L89.77,1005.75 L91.19,991.04 L92.62,998.42 L94.05,996.06 L95.47,1004.51 L96.90,989.18 L98.32,997.37 L99.75,998.65 L101.18,993.93 L102.60,1001.04 L104.03,994.01 L105.45,1011.42 L106.88,994.66 L108.31,1001.56 L109.73,1006.25 L111.16,999.07 L112.58,1003.58 L114.01,994.04 L115.44,995.94 L116.86,993.89 L118.29,995.34 L119.71,997.05 L121.14,995.25 L122.57,991.30 L123.99,995.78 L125.42,998.26 L126.84,999.14 L128.27,995.42 L129.70,1011.00 L131.12,991.51 L132.55,999.59 L133.97,998.91 L135.40,994.99 L136.83,991.06 L138.25,1003.57 L139.68,997.74 L141.10,996.87 L142.53,994.63 L143.96,989.41 L145.38,997.47 L146.81,993.23 L148.23,995.47 L149.66,991.40 L151.09,991.04 L152.51,999.79 L153.94,984.56 L155.36,991.60 L156.79,994.51 L158.22,996.30 L159.64,1002.24 L161.07,991.94 L162.49,989.69 L163.92,991.89 L165.35,989.95 L166.77,999.93 L168.20,995.07 L169.62,996.29 L171.05,990.87 L172.48,989.66 L173.90,998.65 L175.33,991.99 L176.75,988.44 L178.18,987.69 L179.61,996.28 L181.03,988.75 L182.46,989.50 L183.88,992.62 L185.31,983.94 L186.74,995.82 L188.16,991.62 L189.59,988.56 L191.01,989.26 L192.44,990.84 L193.87,985.08 L195.29,984.76 L196.72,986.39 L198.14,985.97 L199.57,989.81 L201.00,995.00 L202.42,988.66 L203.85,993.67 L205.27,981.69 L206.70,989.56 L208.13,987.99 L209.55,989.51 L210.98,985.12 L212.40,990.79 L213.83,982.11 L215.26,986.28 L216.68,987.55 L218.11,990.64 L219.53,986.92 L220.96,987.94 L222.39,981.30 L223.81,984.22 L225.24,995.47 L226.66,982.10 L228.09,1001.20 L229.52,981.87 L230.94,997.22 L232.37,987.12 L233.79,983.96 L235.22,986.96 L236.65,991.99 L238.07,982.25 L239.50,995.90 L240.92,993.76 L242.35,981.47 L243.78,990.26 L245.20,985.23 L246.63,983.06 L248.05,986.45 L249.48,984.80 L250.91,985.30 L252.33,987.14 L253.76,981.23 L255.18,981.95 L256.61,984.03 L258.04,981.76 L259.46,987.41 L260.89,988.34 L262.31,989.41 L263.74,981.67 L265.17,978.79 L266.59,983.98 L268.02,994.76 L269.44,986.20 L270.87,982.01 L272.30,982.48 L273.72,983.10 L275.15,979.65 L276.57,982.11 L278.00,989.39 L279.43,981.06 L280.85,985.84 L282.28,981.45 L283.70,977.72 L285.13,975.75 L286.56,979.16 L287.98,983.76 L289.41,982.88 L290.83,979.19 L292.26,985.48 L293.69,981.11 L295.11,978.37 L296.54,977.10 L297.96,986.03 L299.39,978.66 L300.82,975.15 L302.24,978.55 L303.67,987.96 L305.09,978.54 L306.52,978.23 L307.95,980.75 L309.37,978.69 L310.80,985.57 L312.22,974.21 L313.65,977.83 L315.08,980.41 L316.50,977.13 L317.93,977.34 L319.35,981.31 L320.78,992.21 L322.21,993.51 L323.63,970.72 L325.06,981.74 L326.48,977.91 L327.91,974.55 L329.34,977.77 L330.76,972.22 L332.19,979.83 L333.61,973.80 L335.04,985.26 L336.47,972.89 L337.89,972.75 L339.32,973.56 L340.74,973.54 L342.17,973.39 L343.60,971.26 L345.02,970.71 L346.45,976.94 L347.87,969.90 L349.30,976.22 L350.73,971.95 L352.15,972.96 L353.58,970.34 L355.00,972.48 L356.43,969.87 L357.86,972.16 L359.28,973.31 L360.71,967.10 L362.13,967.98 L363.56,967.76 L364.99,966.32 L366.41,971.20 L367.84,965.69 L369.26,970.16 L370.69,966.10 L372.12,966.94 L373.54,965.49 L374.97,964.20 L376.39,965.13 L377.82,966.63 L379.25,962.55 L380.67,961.73 L382.10,962.13 L383.52,961.13 L384.95,965.43 L386.38,961.68 L387.80,961.43 L389.23,963.73 L390.65,960.00 L392.08,959.56 L393.51,961.96 L394.93,959.36 L396.36,957.63 L397.78,956.45 L399.21,955.71 L400.64,956.73 L402.06,955.91 L403.49,954.62 L404.91,953.46 L406.34,953.01 L407.77,951.87 L409.19,950.42 L410.62,949.52 L412.04,948.84 L413.47,948.42 L414.90,947.00 L416.32,945.36 L417.75,943.91 L419.17,942.41 L420.00,941.90 L420.60,941.51 L420.70,941.39 L421.40,940.54 L422.03,939.78 L422.10,939.70 L422.80,939.03 L423.30,938.56 L423.45,938.42 L423.50,938.38 L424.20,937.83 L424.88,937.31 L424.90,937.28 L425.60,936.39 L426.30,935.49 L426.30,935.48 L427.00,934.80 L427.70,934.08 L427.73,934.05 L428.40,933.04 L429.10,931.91 L429.16,931.82 L429.40,931.52 L429.80,931.01 L430.50,930.04 L430.58,929.93 L431.20,928.99 L431.90,927.83 L432.01,927.64 L432.60,926.48 L433.30,925.00 L433.30,925.00 L433.43,924.70 L434.00,923.30 L434.70,921.33 L434.86,920.85 L435.40,919.18 L436.10,916.98 L436.29,916.41 L436.80,914.92 L437.20,913.84 L437.50,913.06 L437.71,912.52 L438.20,911.24 L438.90,909.44 L439.14,908.83 L439.60,907.70 L440.30,906.02 L440.56,905.40 L441.00,904.37 L441.70,902.77 L441.70,902.77 L441.99,902.12 L442.40,901.24 L443.10,899.77 L443.42,899.12 L443.80,898.35 L444.50,896.97 L444.84,896.30 L445.20,895.61 L445.90,894.26 L446.27,893.54 L446.60,892.89 L447.20,891.69 L447.30,891.49 L447.69,890.70 L448.00,890.10 L448.70,888.75 L449.12,887.94 L449.40,887.39 L450.10,886.02 L450.55,885.14 L450.80,884.64 L451.50,883.26 L451.97,882.32 L452.20,881.85 L452.80,880.61 L452.90,880.40 L453.40,879.37 L453.60,878.95 L454.30,877.51 L454.82,876.42 L455.00,876.06 L455.70,874.57 L456.25,873.34 L456.40,872.99 L457.10,871.27 L457.68,869.74 L457.80,869.40 L457.80,869.40 L458.50,867.30 L459.10,865.29 L459.20,864.95 L459.90,862.35 L460.53,859.85 L460.60,859.56 L460.90,858.30 L461.30,856.60 L461.95,853.62 L462.00,853.40 L462.70,849.68 L463.10,847.20 L463.38,844.63 L463.40,844.41 L464.10,837.77 L464.20,837.60 L464.80,840.51 L464.81,840.56 L465.50,846.55 L465.60,847.20 L466.20,850.61 L466.23,850.78 L466.90,854.25 L467.60,857.47 L467.66,857.72 L467.80,858.31 L468.30,860.24 L469.00,862.68 L469.08,862.96 L469.70,864.93 L470.40,867.12 L470.51,867.47 L471.10,869.41 L471.10,869.41 L471.80,871.92 L471.94,872.42 L472.50,874.53 L473.20,877.06 L473.36,877.61 L473.90,879.29 L474.40,880.59 L474.60,881.05 L474.79,881.46 L475.30,882.52 L476.00,883.83 L476.21,884.20 L476.70,885.00 L477.40,886.07 L477.64,886.42 L478.10,887.09 L478.80,888.09 L479.07,888.47 L479.50,889.12 L480.20,890.21 L480.49,890.69 L480.90,891.38 L481.10,891.73 L481.60,892.62 L481.92,893.18 L482.30,893.85 L483.00,895.07 L483.34,895.69 L483.70,896.34 L484.40,897.66 L484.77,898.39 L485.10,899.08 L485.80,900.63 L486.20,901.56 L486.50,902.30 L486.70,902.80 L487.20,904.15 L487.62,905.38 L487.90,906.24 L488.60,908.56 L489.05,910.17 L489.30,911.11 L490.00,913.89 L490.00,913.89 L490.47,916.05 L490.70,917.19 L491.40,920.93 L491.90,923.53 L492.10,924.52 L492.20,924.99 L492.80,927.83 L493.33,930.28 L493.50,931.00 L494.20,933.43 L494.40,933.92 L494.75,934.67 L494.90,934.96 L495.60,936.19 L496.18,937.05 L496.30,937.22 L497.00,938.14 L497.60,938.87 L497.70,939.02 L498.40,940.15 L498.90,940.97 L499.03,941.19 L499.10,941.25 L499.80,941.80 L500.46,942.30 L500.50,942.35 L501.20,943.26 L501.88,944.06 L501.90,944.08 L502.20,944.35 L502.60,944.70 L503.30,945.29 L503.31,945.29 L504.00,946.27 L504.70,947.24 L504.73,947.29 L506.16,947.60 L507.59,949.47 L509.01,951.07 L510.44,950.51 L511.86,951.45 L513.29,952.25 L514.72,952.98 L516.14,954.57 L517.57,953.77 L518.99,954.72 L520.42,956.80 L521.85,954.51 L523.27,956.84 L524.70,957.46 L526.12,956.85 L527.55,960.91 L528.98,960.84 L530.40,960.65 L531.83,964.22 L533.25,960.74 L534.68,960.32 L536.11,965.82 L537.53,965.57 L538.96,962.84 L540.38,962.49 L541.81,969.47 L543.24,964.91 L544.66,967.03 L546.09,971.98 L547.51,968.53 L548.94,969.39 L550.37,968.07 L551.79,968.67 L553.22,969.96 L554.64,970.00 L556.07,970.51 L557.50,969.04 L558.92,968.24 L560.35,968.66 L561.77,974.93 L563.20,975.13 L564.63,975.24 L566.05,969.13 L567.48,972.34 L568.90,977.33 L570.33,979.60 L571.76,987.43 L573.18,975.82 L574.61,981.05 L576.03,976.89 L577.46,972.77 L578.89,978.72 L580.31,975.05 L581.74,985.54 L583.16,977.41 L584.59,977.94 L586.02,983.38 L587.44,974.81 L588.87,979.88 L590.29,983.07 L591.72,981.56 L593.15,977.14 L594.57,987.39 L596.00,980.55 L597.42,985.77 L598.85,980.85 L600.28,984.36 L601.70,982.85 L603.13,980.26 L604.55,983.57 L605.98,982.19 L607.41,982.11 L608.83,983.42 L610.26,984.08 L611.68,984.64 L613.11,982.14 L614.54,979.93 L615.96,977.65 L617.39,977.51 L618.81,987.71 L620.24,981.52 L621.67,980.26 L623.09,977.22 L624.52,977.10 L625.94,986.98 L627.37,978.00 L628.80,985.69 L630.22,985.91 L631.65,977.99 L633.07,974.99 L634.50,967.12 L635.93,971.91 L637.35,970.38 L638.78,967.29 L640.20,963.84 L641.63,967.95 L643.06,959.93 L644.48,961.34 L645.00,960.50 L645.20,960.16 L645.40,959.82 L645.60,959.47 L645.80,959.11 L645.91,958.92 L646.00,958.67 L646.20,958.11 L646.40,957.55 L646.60,956.98 L646.80,956.40 L647.00,955.82 L647.20,955.22 L647.33,954.82 L647.40,954.66 L647.60,954.17 L647.80,953.68 L648.00,953.17 L648.20,952.66 L648.40,952.13 L648.60,951.59 L648.76,951.15 L648.80,951.03 L649.00,950.40 L649.20,949.77 L649.40,949.11 L649.60,948.45 L649.80,947.77 L650.00,947.08 L650.19,946.42 L650.20,946.38 L650.40,945.90 L650.60,945.40 L650.80,944.89 L651.00,944.35 L651.20,943.80 L651.40,943.23 L651.60,942.64 L651.61,942.60 L651.80,941.96 L652.00,941.25 L652.20,940.53 L652.40,939.77 L652.60,939.00 L652.80,938.20 L653.00,937.37 L653.04,937.21 L653.20,936.45 L653.40,935.49 L653.60,934.50 L653.80,933.48 L654.00,932.42 L654.20,931.32 L654.40,930.19 L654.46,929.81 L654.60,929.02 L654.80,927.82 L655.00,926.57 L655.20,925.26 L655.40,923.91 L655.60,922.49 L655.80,921.01 L655.89,920.32 L656.00,919.45 L656.20,917.81 L656.40,916.09 L656.60,914.28 L656.80,912.37 L657.00,910.36 L657.20,908.22 L657.32,906.93 L657.40,905.97 L657.60,903.57 L657.80,901.01 L658.00,898.25 L658.20,895.28 L658.40,892.06 L658.60,888.55 L658.74,885.85 L658.80,884.70 L659.00,880.44 L659.20,875.69 L659.40,870.36 L659.60,864.35 L659.80,857.59 L660.00,850.19 L660.17,843.98 L660.20,842.88 L660.40,837.76 L660.50,837.00 L660.60,837.73 L660.80,842.79 L661.00,850.05 L661.20,857.39 L661.40,864.09 L661.59,869.88 L661.60,870.05 L661.80,875.33 L662.00,880.03 L662.20,884.25 L662.40,888.05 L662.60,891.52 L662.80,894.69 L663.00,897.61 L663.02,897.89 L663.20,900.31 L663.40,902.82 L663.60,905.16 L663.80,907.35 L664.00,909.41 L664.20,911.36 L664.40,913.19 L664.45,913.60 L664.60,914.94 L664.80,916.60 L665.00,918.18 L665.20,919.69 L665.40,921.13 L665.60,922.50 L665.80,923.82 L665.87,924.28 L666.00,925.07 L666.20,926.28 L666.40,927.43 L666.60,928.54 L666.80,929.61 L667.00,930.64 L667.20,931.63 L667.30,932.10 L667.40,932.60 L667.60,933.56 L667.80,934.49 L668.00,935.39 L668.20,936.26 L668.40,937.10 L668.60,937.92 L668.72,938.42 L668.80,938.67 L669.00,939.30 L669.20,939.92 L669.40,940.51 L669.60,941.08 L669.80,941.63 L670.00,942.17 L670.15,942.55 L670.20,942.73 L670.40,943.42 L670.60,944.10 L670.80,944.76 L671.00,945.40 L671.20,946.03 L671.40,946.64 L671.58,947.17 L671.60,947.23 L671.80,947.67 L672.00,948.09 L672.20,948.51 L672.40,948.91 L672.60,949.30 L672.80,949.68 L673.00,950.05 L673.00,950.05 L673.20,950.33 L673.40,950.60 L673.60,950.86 L673.80,951.11 L674.00,951.35 L674.20,951.59 L674.40,951.81 L674.43,951.84 L674.60,952.08 L674.80,952.34 L675.00,952.59 L675.20,952.84 L675.40,953.07 L675.60,953.31 L675.80,953.53 L675.85,953.59 L677.28,955.68 L678.71,961.33 L680.13,960.25 L681.56,961.59 L682.98,963.16 L684.41,964.34 L685.84,964.88 L687.26,963.85 L688.69,966.21 L690.11,968.52 L691.54,970.06 L692.97,967.84 L694.39,974.27 L695.82,969.63 L697.24,974.19 L698.67,975.62 L700.10,974.45 L701.52,976.85 L702.95,974.34 L704.37,981.19 L705.80,983.84 L707.23,972.44 L708.65,977.49 L710.08,988.81 L711.50,973.92 L712.93,983.94 L714.36,973.56 L715.78,974.38 L717.21,977.05 L718.63,979.93 L720.06,983.25 L721.49,977.68 L722.91,982.13 L724.34,977.87 L725.76,982.29 L727.19,987.62 L728.62,984.35 L730.04,982.00 L731.47,984.14 L732.89,982.28 L734.32,986.29 L735.75,978.62 L737.17,985.34 L738.60,982.18 L740.02,990.59 L741.45,981.83 L742.88,980.15 L744.30,983.03 L745.73,986.02 L747.15,988.82 L748.58,983.90 L750.01,984.30 L751.43,991.34 L752.86,986.87 L754.28,985.77 L755.71,990.82 L757.14,986.72 L758.56,990.03 L759.99,985.25 L761.41,994.46 L762.84,988.11 L764.27,989.39 L765.69,997.27 L767.12,993.10 L768.54,992.77 L769.97,986.80 L771.40,990.74 L772.82,989.38 L774.25,990.96 L775.67,981.85" fill="none" stroke="#000000" stroke-width="3.1" stroke-linejoin="round" stroke-linecap="round"/><line x1="660.1" y1="2.4" x2="660.1" y2="1018.3" stroke="#000" stroke-width="4.2" stroke-dasharray="12 4.5"/><circle cx="456.3" cy="114.8" r="12"/><circle cx="455.3" cy="215.3" r="12"/><circle cx="462.8" cy="290" r="12"/><circle cx="458.9" cy="378.3" r="12"/><circle cx="457.8" cy="466.7" r="12"/><circle cx="461.7" cy="558.3" r="12"/><circle cx="456.4" cy="641.1" r="12"/><circle cx="461.7" cy="729.4" r="12"/><circle cx="463.6" cy="821.1" r="12"/><circle cx="119.2" cy="192.2" r="12"/><polygon points="275,492.1 260.2,517.8000000000001 289.8,517.8000000000001"/><polygon points="266.1,754.5 251.00000000000003,780.1 281.20000000000005,780.1"/><polygon points="119.1,227.1 103.69999999999999,252.0 134.5,252.0"/><line x1="80.5" y1="43.9" x2="163.5" y2="43.9" stroke="#f82428" stroke-width="3" stroke-linecap="round"/><line x1="80.5" y1="89.4" x2="163.5" y2="89.4" stroke="#0a2bff" stroke-width="3" stroke-linecap="round"/><line x1="80.5" y1="135.6" x2="163.5" y2="135.6" stroke="#000000" stroke-width="3" stroke-linecap="round"/><g font-family="Liberation Serif, Times New Roman, serif" fill="#000"><text x="172.6" y="56.9" font-size="37">HCl : 0.66 mol/L</text><text x="172.6" y="103.0" font-size="37">HCl : 0.34 mol/L</text><text x="172.6" y="148.6" font-size="37">HCl : 0.17 mol/L</text><g transform="translate(0,204.1) scale(1,1.05) translate(0,-204.1)"><text x="145.1" y="204.1" font-size="38.9">α-Ga</text><text x="222.9" y="212.5" font-size="27.5">2</text><text x="236.2" y="204.1" font-size="38.9">O</text><text x="264.2" y="212.5" font-size="27.5">3</text><text x="286.8" y="204.1" font-size="38.9">0006</text></g><g transform="translate(0,253) scale(1,1.05) translate(0,-253)"><text x="144.5" y="253" font-size="38.9">κ-Ga</text><text x="222.5" y="261.2" font-size="27.5">2</text><text x="235.3" y="253" font-size="38.9">O</text><text x="263.8" y="261.2" font-size="27.5">3</text><text x="286" y="253" font-size="38.9">004</text></g><text x="134.8" y="1068" font-size="44" text-anchor="middle">38</text><text x="277.4" y="1068" font-size="44" text-anchor="middle">39</text><text x="420.0" y="1068" font-size="44" text-anchor="middle">40</text><text x="562.6" y="1068" font-size="44" text-anchor="middle">41</text><text x="705.2" y="1068" font-size="44" text-anchor="middle">42</text><text x="323.5" y="1126.7" font-size="44">2<tspan font-style="italic">θ</tspan>/<tspan font-style="italic">ω</tspan><tspan dx="2.5"> (deg)</tspan></text><text transform="translate(34.5,733.7) rotate(-90)" font-size="45">Log Intensity (arb. unit)</text><text transform="translate(707.8,127) rotate(-90)" font-size="39" text-anchor="middle">Sapphire</text><text transform="translate(754,126.4) rotate(-90)" font-size="39" text-anchor="middle">0006</text><text x="820.8" y="227.7" font-size="45.5" font-style="italic">T</text><text x="845.1" y="237.5" font-size="26.7">g</text><g transform="translate(792.4,302.2) scale(0.985,1.04)"><text x="0" y="0" font-size="40">500</text><text x="65.2" y="0" font-size="40">°C</text></g><g transform="translate(792.4,390.4) scale(0.985,1.04)"><text x="0" y="0" font-size="40">470</text><text x="65.2" y="0" font-size="40">°C</text></g><g transform="translate(792.4,478.6) scale(0.985,1.04)"><text x="0" y="0" font-size="40">440</text><text x="65.2" y="0" font-size="40">°C</text></g><g transform="translate(792.4,566.8) scale(0.985,1.04)"><text x="0" y="0" font-size="40">500</text><text x="65.2" y="0" font-size="40">°C</text></g><g transform="translate(792.4,655.0) scale(0.985,1.04)"><text x="0" y="0" font-size="40">470</text><text x="65.2" y="0" font-size="40">°C</text></g><g transform="translate(792.4,743.2) scale(0.985,1.04)"><text x="0" y="0" font-size="40">440</text><text x="65.2" y="0" font-size="40">°C</text></g><g transform="translate(792.4,831.4) scale(0.985,1.04)"><text x="0" y="0" font-size="40">470</text><text x="65.2" y="0" font-size="40">°C</text></g><g transform="translate(792.4,919.6) scale(0.985,1.04)"><text x="0" y="0" font-size="40">440</text><text x="65.2" y="0" font-size="40">°C</text></g><g transform="translate(792.4,1007.8) scale(0.985,1.04)"><text x="0" y="0" font-size="40">400</text><text x="65.2" y="0" font-size="40">°C</text></g></g></svg>
</body></html>
